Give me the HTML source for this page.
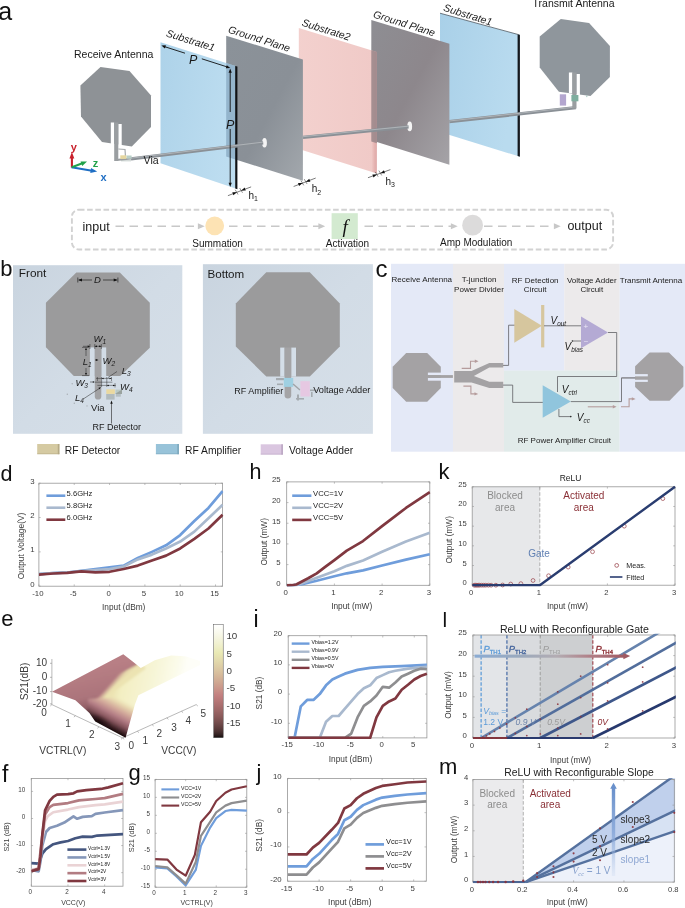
<!DOCTYPE html>
<html><head><meta charset="utf-8"><title>Figure</title>
<style>
html,body{margin:0;padding:0;background:#fff;}
body{width:685px;height:908px;overflow:hidden;}
svg{display:block;font-family:"Liberation Sans", sans-serif;}
</style></head><body>
<svg width="685" height="908" viewBox="0 0 685 908">
<defs>

<linearGradient id="gp1" x1="0" y1="0" x2="1" y2="1">
 <stop offset="0" stop-color="#8b9299"/><stop offset="0.55" stop-color="#8a9097"/><stop offset="1" stop-color="#a3a8ad"/>
</linearGradient>
<linearGradient id="gp2" x1="0" y1="0" x2="1" y2="1">
 <stop offset="0" stop-color="#8e8e93"/><stop offset="0.5" stop-color="#8d878c"/><stop offset="1" stop-color="#a5a3a7"/>
</linearGradient>
<linearGradient id="sub1" x1="0" y1="0" x2="1" y2="0.3">
 <stop offset="0" stop-color="#a9d0e8"/><stop offset="1" stop-color="#b9dbef"/>
</linearGradient>
<linearGradient id="sub2" x1="0" y1="0" x2="1" y2="0">
 <stop offset="0" stop-color="#f2cdca"/><stop offset="0.93" stop-color="#efc6c3"/><stop offset="0.97" stop-color="#e3adab"/><stop offset="1" stop-color="#dca3a2"/>
</linearGradient>
<linearGradient id="rodg" x1="0" y1="0" x2="0" y2="1">
 <stop offset="0" stop-color="#b5b9bc"/><stop offset="1" stop-color="#7f8489"/>
</linearGradient>

<linearGradient id="pcb" x1="0" y1="0" x2="1" y2="1">
 <stop offset="0" stop-color="#c9d4df"/><stop offset="0.5" stop-color="#d2dce6"/><stop offset="1" stop-color="#d6dfe8"/>
</linearGradient>
<clipPath id="cd"><rect x="38.90" y="482.00" width="184.50" height="105.40"/></clipPath>
<clipPath id="ch"><rect x="286.70" y="480.70" width="143.90" height="105.80"/></clipPath>
<clipPath id="ck"><rect x="472.20" y="485.60" width="203.60" height="100.80"/></clipPath>
<clipPath id="ci"><rect x="288.20" y="634.50" width="139.50" height="104.60"/></clipPath>
<clipPath id="cl"><rect x="472.90" y="633.80" width="202.90" height="105.40"/></clipPath>
<linearGradient id="larr" x1="0" y1="0" x2="1" y2="0">
<stop offset="0" stop-color="#8aabd3"/><stop offset="0.3" stop-color="#9aa9bd"/><stop offset="0.55" stop-color="#b3acb2"/><stop offset="0.8" stop-color="#b07a82"/><stop offset="1" stop-color="#a05a62"/></linearGradient>
<clipPath id="cf"><rect x="31.30" y="777.20" width="92.50" height="110.20"/></clipPath>
<clipPath id="cg"><rect x="155.10" y="778.20" width="92.50" height="110.20"/></clipPath>
<clipPath id="cj"><rect x="287.60" y="777.20" width="139.50" height="105.20"/></clipPath>
<clipPath id="cm"><rect x="472.90" y="778.30" width="202.20" height="105.00"/></clipPath>
<linearGradient id="marr" x1="0" y1="1" x2="0" y2="0">
<stop offset="0" stop-color="#a9c1e6" stop-opacity="0.15"/><stop offset="0.5" stop-color="#86a6d8" stop-opacity="0.85"/><stop offset="1" stop-color="#6990cb"/></linearGradient>

<linearGradient id="cbar" x1="0" y1="0" x2="0" y2="1">
<stop offset="0.0000" stop-color="#ffffff"/><stop offset="0.0625" stop-color="#fafaef"/><stop offset="0.1250" stop-color="#f4f4dd"/><stop offset="0.1875" stop-color="#efefca"/><stop offset="0.2500" stop-color="#e9e9b4"/><stop offset="0.3125" stop-color="#e3dbad"/><stop offset="0.3750" stop-color="#ddcca5"/><stop offset="0.4375" stop-color="#d7bc9c"/><stop offset="0.5000" stop-color="#d0aa93"/><stop offset="0.5625" stop-color="#ca968a"/><stop offset="0.6250" stop-color="#c38080"/><stop offset="0.6875" stop-color="#b27474"/><stop offset="0.7500" stop-color="#9f6868"/><stop offset="0.8125" stop-color="#8a5a5a"/><stop offset="0.8750" stop-color="#704a4a"/><stop offset="0.9200" stop-color="#5a3b3b"/><stop offset="0.9500" stop-color="#472f2f"/><stop offset="0.9750" stop-color="#322121"/><stop offset="0.9900" stop-color="#201515"/><stop offset="1.0000" stop-color="#000000"/></linearGradient>
<linearGradient id="epink" gradientUnits="userSpaceOnUse" x1="92" y1="668" x2="104" y2="722">
<stop offset="0" stop-color="#b87f85"/><stop offset="0.5" stop-color="#ab747b"/><stop offset="0.72" stop-color="#8a5860"/><stop offset="0.9" stop-color="#3a2024"/><stop offset="1" stop-color="#1a0b0d"/></linearGradient>
<linearGradient id="ecream" gradientUnits="userSpaceOnUse" x1="116" y1="676" x2="182" y2="690">
<stop offset="0" stop-color="#ece3b2"/><stop offset="0.12" stop-color="#f3efc2"/><stop offset="0.5" stop-color="#f6f4d4"/><stop offset="0.85" stop-color="#fbfbea"/><stop offset="1" stop-color="#fefef8"/></linearGradient>
<linearGradient id="ewall" gradientUnits="userSpaceOnUse" x1="121" y1="698" x2="105.5" y2="727">
<stop offset="0" stop-color="#efe8bc" stop-opacity="0"/><stop offset="0.16" stop-color="#e8d8b0"/><stop offset="0.36" stop-color="#d2a89a"/><stop offset="0.55" stop-color="#b47e86"/><stop offset="0.74" stop-color="#85545c"/><stop offset="0.9" stop-color="#3c2226"/><stop offset="1" stop-color="#150809"/></linearGradient>
<linearGradient id="etrans" gradientUnits="userSpaceOnUse" x1="114.5" y1="678" x2="118.5" y2="681.4">
<stop offset="0" stop-color="#b77d83"/><stop offset="1" stop-color="#ebe2b0"/></linearGradient>
<radialGradient id="edark" gradientUnits="userSpaceOnUse" cx="99" cy="722" r="16" gradientTransform="translate(99 722) rotate(28) scale(1 0.45) translate(-99 -722)">
<stop offset="0" stop-color="#12070a" stop-opacity="0.95"/><stop offset="0.5" stop-color="#2a1418" stop-opacity="0.55"/><stop offset="1" stop-color="#2a1418" stop-opacity="0"/></radialGradient>
<filter id="eblur" x="-10%" y="-10%" width="120%" height="120%"><feGaussianBlur stdDeviation="1.0"/></filter>
<clipPath id="esil"><polygon points="52,691.7 123.3,654.3 132,661 140.8,667.9 154.8,660.2 171.1,655.5 185.2,656.2 200,661 200,665 138.4,695.2 134.9,704.6 125.6,737.8 95.2,721.4 89.4,713 75.4,700.2"/></clipPath>

</defs>
<text x="-1.80" y="19.50" font-size="25" fill="#111">a</text>
<polygon points="440.00,13.30 519.50,35.00 519.50,156.60 440.00,132.00" fill="url(#sub1)"/>
<polygon points="517.60,34.50 519.90,35.10 519.90,156.80 517.60,156.10" fill="#15181c"/>
<line x1="440.00" y1="13.20" x2="519.60" y2="34.90" stroke="#39434c" stroke-width="0.7"/>
<line x1="449.30" y1="121.70" x2="575.80" y2="107.70" stroke="#8a9096" stroke-width="3.3"/>
<line x1="449.30" y1="121.00" x2="575.80" y2="107.00" stroke="#b9bdc0" stroke-width="0.8"/>
<polygon points="371.30,20.00 449.40,43.80 449.40,164.70 371.30,140.20" fill="url(#gp2)"/>
<ellipse cx="409.7" cy="126.4" rx="2.4" ry="4.8" fill="#f4f4f4"/>
<polygon points="298.80,28.00 376.90,51.90 376.90,173.40 298.80,148.90" fill="url(#sub2)" opacity="0.93"/>
<polygon points="371.30,50.20 376.90,51.90 376.90,143.20 371.30,141.50" fill="#9a878b" opacity="0.85"/>
<line x1="303.00" y1="137.40" x2="408.60" y2="126.85" stroke="#8a9096" stroke-width="3.3"/>
<line x1="303.00" y1="136.70" x2="408.60" y2="126.15" stroke="#b9bdc0" stroke-width="0.8"/>
<polygon points="226.20,35.80 302.90,59.40 302.90,180.80 226.20,156.60" fill="url(#gp1)"/>
<ellipse cx="264.5" cy="142.8" rx="2.4" ry="4.8" fill="#f4f4f4"/>
<polygon points="160.50,42.30 235.60,66.00 235.60,188.40 160.50,163.20" fill="url(#sub1)" opacity="0.95"/>
<polygon points="226.20,63.00 235.40,66.00 235.40,159.50 226.20,156.60" fill="#7f9fb9" opacity="0.62"/>
<polygon points="235.20,65.90 237.40,66.60 237.40,189.20 235.20,188.40" fill="#101215"/>
<line x1="131.00" y1="158.90" x2="263.20" y2="142.80" stroke="#8a9096" stroke-width="3.3"/>
<line x1="131.00" y1="158.20" x2="263.20" y2="142.10" stroke="#b9bdc0" stroke-width="0.8"/>
<polygon points="100.50,67.00 129.50,71.00 151.00,95.50 151.00,127.00 131.80,146.40 102.00,142.00 81.00,116.60 80.40,85.40" fill="#8e9296"/>
<rect x="110.80" y="122.50" width="3.40" height="21.50" fill="#ffffff"/>
<rect x="118.30" y="124.00" width="3.40" height="23.50" fill="#ffffff"/>
<rect x="114.20" y="122.50" width="4.10" height="38.50" fill="#9a9ea1"/>
<polyline points="116.20,160.00 131.00,158.50" fill="none" stroke="#9a9ea1" stroke-width="2.2"/>
<polyline points="118.30,149.00 125.00,149.50 125.50,157.00" fill="none" stroke="#a6aaad" stroke-width="1.2"/>
<rect x="120.30" y="155.30" width="6.20" height="3.60" fill="#e6d7a0"/>
<rect x="126.60" y="155.50" width="5.00" height="3.20" fill="#b9cfc8"/>
<line x1="121.00" y1="160.80" x2="131.00" y2="160.80" stroke="#9aa7a5" stroke-width="0.6"/>
<text x="74.00" y="58.30" font-size="10.5" fill="#1a1a1a">Receive Antenna</text>
<text x="143.60" y="164.00" font-size="10.6" fill="#1a1a1a">Via</text>
<line x1="71.90" y1="167.60" x2="71.90" y2="157.00" stroke="#c8202c" stroke-width="2.1"/>
<polygon points="71.90,152.00 74.33,158.40 69.47,158.40" fill="#c8202c"/>
<line x1="71.50" y1="167.30" x2="92.00" y2="170.70" stroke="#1f6ec3" stroke-width="2.1"/>
<polygon points="97.20,171.60 90.28,172.98 91.10,168.04" fill="#1f6ec3"/>
<line x1="71.90" y1="167.20" x2="82.30" y2="163.30" stroke="#21a24a" stroke-width="2.1"/>
<polygon points="87.00,161.60 82.22,165.88 80.58,161.62" fill="#21a24a"/>
<text x="70.70" y="150.50" font-size="11" fill="#c8202c" font-weight="bold">y</text>
<text x="92.80" y="167.30" font-size="11" fill="#21a24a" font-weight="bold">z</text>
<text x="100.40" y="180.60" font-size="11" fill="#1f6ec3" font-weight="bold">x</text>
<polygon points="560.80,18.90 589.10,23.00 609.90,45.90 609.90,77.00 590.50,95.90 558.90,91.80 539.70,67.50 539.70,36.50" fill="#8f969c"/>
<rect x="568.90" y="72.50" width="3.50" height="20.50" fill="#ffffff"/>
<rect x="576.40" y="74.00" width="3.50" height="22.00" fill="#ffffff"/>
<rect x="572.30" y="72.50" width="4.20" height="36.00" fill="#9a9ea1"/>
<rect x="559.80" y="94.30" width="6.30" height="11.30" fill="#b3a6cf"/>
<rect x="571.40" y="95.00" width="7.00" height="6.30" fill="#7fae9f"/>
<rect x="586.30" y="95.50" width="1.00" height="1.60" fill="#9fc7bd"/>
<text x="532.60" y="7.00" font-size="10.5" fill="#1a1a1a">Transmit Antenna</text>
<text x="165.60" y="36.20" font-size="10.4" fill="#1a1a1a" font-style="italic" transform="rotate(17.5 165.60 36.20)">Substrate1</text>
<text x="227.60" y="32.60" font-size="10.4" fill="#1a1a1a" font-style="italic" transform="rotate(17.5 227.60 32.60)">Ground Plane</text>
<text x="301.20" y="25.60" font-size="10.4" fill="#1a1a1a" font-style="italic" transform="rotate(17.5 301.20 25.60)">Substrate2</text>
<text x="372.60" y="17.20" font-size="10.4" fill="#1a1a1a" font-style="italic" transform="rotate(17.5 372.60 17.20)">Ground Plane</text>
<text x="442.80" y="10.60" font-size="10.4" fill="#1a1a1a" font-style="italic" transform="rotate(17.5 442.80 10.60)">Substrate1</text>
<line x1="163.50" y1="46.30" x2="185.00" y2="53.20" stroke="#111" stroke-width="0.9"/>
<polygon points="161.40,45.60 165.89,45.36 164.91,48.40" fill="#111"/>
<line x1="201.80" y1="58.80" x2="228.00" y2="67.20" stroke="#111" stroke-width="0.9"/>
<polygon points="230.30,68.00 225.81,68.24 226.79,65.20" fill="#111"/>
<text x="189.00" y="63.80" font-size="12.5" fill="#1a1a1a" font-style="italic">P</text>
<line x1="230.20" y1="71.00" x2="230.20" y2="112.00" stroke="#111" stroke-width="0.9"/>
<polygon points="230.20,68.60 231.80,72.80 228.60,72.80" fill="#111"/>
<line x1="230.20" y1="129.00" x2="230.20" y2="184.50" stroke="#111" stroke-width="0.9"/>
<polygon points="230.20,187.00 228.60,182.80 231.80,182.80" fill="#111"/>
<text x="226.00" y="128.60" font-size="12.5" fill="#1a1a1a" font-style="italic">P</text>
<line x1="227.91" y1="195.66" x2="251.12" y2="186.89" stroke="#222" stroke-width="0.6"/>
<polygon points="236.80,192.30 233.44,195.28 232.31,192.29" fill="#111"/>
<polygon points="241.30,190.60 244.66,187.62 245.79,190.61" fill="#111"/>
<line x1="235.20" y1="189.70" x2="238.00" y2="194.50" stroke="#222" stroke-width="0.5"/>
<line x1="239.70" y1="188.00" x2="242.50" y2="192.80" stroke="#222" stroke-width="0.5"/>
<text x="248.4" y="199" font-size="10" fill="#1a1a1a">h<tspan font-size="7" dy="2.4">1</tspan></text>
<line x1="293.63" y1="186.49" x2="315.71" y2="178.05" stroke="#222" stroke-width="0.6"/>
<polygon points="302.50,183.10 299.15,186.09 298.01,183.11" fill="#111"/>
<polygon points="305.90,181.80 309.25,178.81 310.39,181.79" fill="#111"/>
<line x1="300.90" y1="180.50" x2="303.70" y2="185.30" stroke="#222" stroke-width="0.5"/>
<line x1="304.30" y1="179.20" x2="307.10" y2="184.00" stroke="#222" stroke-width="0.5"/>
<text x="311.8" y="192.4" font-size="10" fill="#1a1a1a">h<tspan font-size="7" dy="2.4">2</tspan></text>
<line x1="367.96" y1="177.73" x2="390.38" y2="169.63" stroke="#222" stroke-width="0.6"/>
<polygon points="376.90,174.50 373.49,177.43 372.41,174.43" fill="#111"/>
<polygon points="380.50,173.20 383.91,170.27 384.99,173.27" fill="#111"/>
<line x1="375.30" y1="171.90" x2="378.10" y2="176.70" stroke="#222" stroke-width="0.5"/>
<line x1="378.90" y1="170.60" x2="381.70" y2="175.40" stroke="#222" stroke-width="0.5"/>
<text x="385.4" y="184.6" font-size="10" fill="#1a1a1a">h<tspan font-size="7" dy="2.4">3</tspan></text>
<rect x="71.9" y="209.7" width="541.2" height="39.8" rx="7" ry="7" fill="none" stroke="#d2d2d2" stroke-width="1.9" stroke-dasharray="5.6 2.6"/>
<text x="82.60" y="230.70" font-size="12.5" fill="#1a1a1a">input</text>
<line x1="115.50" y1="226.20" x2="198.50" y2="226.20" stroke="#c8c8c8" stroke-width="1.6" stroke-dasharray="8.5 5.5"/>
<polygon points="204.70,226.20 197.90,223.20 197.90,229.20" fill="#c8c8c8"/>
<circle cx="214.7" cy="225.8" r="9.4" fill="#fde3b4"/>
<text x="217.60" y="246.80" font-size="10" fill="#1a1a1a" text-anchor="middle">Summation</text>
<line x1="229.00" y1="226.20" x2="319.00" y2="226.20" stroke="#c8c8c8" stroke-width="1.6" stroke-dasharray="8.5 5.5"/>
<polygon points="325.20,226.20 318.40,223.20 318.40,229.20" fill="#c8c8c8"/>
<rect x="331.60" y="213.20" width="26.20" height="25.80" fill="#d3ead0"/>
<text x="345.20" y="233.30" font-size="19" fill="#111" text-anchor="middle" font-style="italic" font-family='"Liberation Serif", serif'>f</text>
<text x="347.50" y="246.80" font-size="10" fill="#1a1a1a" text-anchor="middle">Activation</text>
<line x1="364.50" y1="226.20" x2="451.50" y2="226.20" stroke="#c8c8c8" stroke-width="1.6" stroke-dasharray="8.5 5.5"/>
<polygon points="457.70,226.20 450.90,223.20 450.90,229.20" fill="#c8c8c8"/>
<circle cx="472.6" cy="225.2" r="10.4" fill="#dcdbdb"/>
<text x="476.20" y="245.50" font-size="10" fill="#1a1a1a" text-anchor="middle">Amp Modulation</text>
<line x1="484.00" y1="226.20" x2="554.50" y2="226.20" stroke="#c8c8c8" stroke-width="1.6" stroke-dasharray="8.5 5.5"/>
<polygon points="560.70,226.20 553.90,223.20 553.90,229.20" fill="#c8c8c8"/>
<text x="567.40" y="230.20" font-size="12.5" fill="#1a1a1a">output</text>
<text x="0.20" y="276.00" font-size="22" fill="#111">b</text>
<rect x="13.00" y="265.20" width="169.30" height="168.60" fill="url(#pcb)"/>
<polygon points="76.30,272.50 119.80,272.50 149.80,302.80 149.80,347.70 120.20,376.00 73.80,376.00 45.90,347.20 45.90,302.80" fill="#9b9b9c"/>
<rect x="89.90" y="347.40" width="4.90" height="28.80" fill="#d2dce6"/>
<rect x="101.30" y="347.40" width="4.90" height="28.80" fill="#d2dce6"/>
<path d="M94.8 347 H101.3 V396.5 Q101.3 399.6 98.05 399.6 Q94.8 399.6 94.8 396.5 Z" fill="#a2a2a4"/>
<text x="18.80" y="276.80" font-size="11.8" fill="#1a1a1a">Front</text>
<line x1="77.80" y1="277.50" x2="77.80" y2="282.50" stroke="#222" stroke-width="0.7"/>
<line x1="117.90" y1="277.50" x2="117.90" y2="282.50" stroke="#222" stroke-width="0.7"/>
<line x1="79.00" y1="280.00" x2="92.00" y2="280.00" stroke="#222" stroke-width="0.7"/>
<line x1="103.00" y1="280.00" x2="116.50" y2="280.00" stroke="#222" stroke-width="0.7"/>
<polygon points="78.00,280.00 82.00,278.48 82.00,281.52" fill="#111"/>
<polygon points="117.70,280.00 113.70,281.52 113.70,278.48" fill="#111"/>
<text x="97.50" y="283.40" font-size="9.5" fill="#1a1a1a" text-anchor="middle" font-style="italic">D</text>
<text x="93.6" y="341.6" font-size="9.5" fill="#1a1a1a" font-style="italic">W<tspan font-size="6.6" dy="2">1</tspan></text>
<text x="82.8" y="365.2" font-size="9.5" fill="#1a1a1a" font-style="italic">L<tspan font-size="6.6" dy="2">1</tspan></text>
<text x="102.6" y="364.4" font-size="9.5" fill="#1a1a1a" font-style="italic">W<tspan font-size="6.6" dy="2">2</tspan></text>
<text x="121.8" y="373.8" font-size="9.5" fill="#1a1a1a" font-style="italic">L<tspan font-size="6.6" dy="2">3</tspan></text>
<text x="75.4" y="386.2" font-size="9.5" fill="#1a1a1a" font-style="italic">W<tspan font-size="6.6" dy="2">3</tspan></text>
<text x="120" y="389.8" font-size="9.5" fill="#1a1a1a" font-style="italic">W<tspan font-size="6.6" dy="2">4</tspan></text>
<text x="75" y="401.2" font-size="9.5" fill="#1a1a1a" font-style="italic">L<tspan font-size="6.6" dy="2">4</tspan></text>
<text x="91.00" y="411.30" font-size="9.5" fill="#1a1a1a">Via</text>
<text x="92.60" y="430.30" font-size="9" fill="#1a1a1a">RF Detector</text>
<line x1="89.90" y1="344.00" x2="89.90" y2="349.00" stroke="#222" stroke-width="0.5"/>
<line x1="94.80" y1="344.00" x2="94.80" y2="349.00" stroke="#222" stroke-width="0.5"/>
<line x1="101.30" y1="344.00" x2="101.30" y2="349.00" stroke="#222" stroke-width="0.5"/>
<line x1="83.00" y1="346.30" x2="89.90" y2="346.30" stroke="#222" stroke-width="0.5"/>
<polygon points="89.90,346.30 87.70,347.14 87.70,345.46" fill="#111"/>
<line x1="94.80" y1="346.30" x2="101.30" y2="346.30" stroke="#222" stroke-width="0.5"/>
<polygon points="94.80,346.30 97.00,345.46 97.00,347.14" fill="#111"/>
<polygon points="101.30,346.30 99.10,347.14 99.10,345.46" fill="#111"/>
<line x1="82.00" y1="347.40" x2="89.00" y2="347.40" stroke="#222" stroke-width="0.5"/>
<line x1="82.00" y1="375.60" x2="89.00" y2="375.60" stroke="#222" stroke-width="0.5"/>
<line x1="86.00" y1="349.00" x2="86.00" y2="356.00" stroke="#222" stroke-width="0.5"/>
<line x1="86.00" y1="368.00" x2="86.00" y2="374.00" stroke="#222" stroke-width="0.5"/>
<polygon points="86.00,347.60 86.91,350.00 85.09,350.00" fill="#111"/>
<polygon points="86.00,375.40 85.09,373.00 86.91,373.00" fill="#111"/>
<polygon points="95.00,360.00 97.00,359.24 97.00,360.76" fill="#111"/>
<polygon points="98.20,360.00 96.20,360.76 96.20,359.24" fill="#111"/>
<line x1="95.00" y1="360.00" x2="98.20" y2="360.00" stroke="#222" stroke-width="0.5"/>
<line x1="97.40" y1="377.00" x2="97.40" y2="381.00" stroke="#222" stroke-width="0.45"/>
<line x1="101.60" y1="377.00" x2="101.60" y2="387.00" stroke="#222" stroke-width="0.45"/>
<line x1="106.80" y1="377.00" x2="106.80" y2="387.00" stroke="#222" stroke-width="0.45"/>
<line x1="111.50" y1="377.00" x2="111.50" y2="381.00" stroke="#222" stroke-width="0.45"/>
<line x1="115.00" y1="383.00" x2="115.00" y2="387.50" stroke="#222" stroke-width="0.45"/>
<line x1="96.00" y1="378.40" x2="111.50" y2="378.40" stroke="#222" stroke-width="0.45"/>
<line x1="95.00" y1="382.20" x2="112.40" y2="382.20" stroke="#222" stroke-width="0.45"/>
<line x1="97.40" y1="385.40" x2="116.00" y2="385.40" stroke="#222" stroke-width="0.45"/>
<polygon points="101.60,378.40 103.60,377.64 103.60,379.16" fill="#111"/>
<polygon points="111.50,378.40 109.50,379.16 109.50,377.64" fill="#111"/>
<polygon points="106.80,385.40 108.80,384.64 108.80,386.16" fill="#111"/>
<polygon points="115.00,385.40 113.00,386.16 113.00,384.64" fill="#111"/>
<line x1="108.00" y1="377.50" x2="117.00" y2="371.50" stroke="#222" stroke-width="0.5"/>
<line x1="90.00" y1="382.00" x2="94.00" y2="382.00" stroke="#222" stroke-width="0.5"/>
<polygon points="95.00,382.00 92.80,382.84 92.80,381.16" fill="#111"/>
<line x1="84.00" y1="398.50" x2="100.00" y2="388.00" stroke="#222" stroke-width="0.5"/>
<polygon points="101.00,387.30 99.48,389.37 98.49,387.84" fill="#111"/>
<rect x="106.20" y="394.00" width="8.40" height="5.60" fill="#8f9a96" opacity="0.5"/>
<rect x="115.80" y="393.50" width="5.00" height="3.20" fill="#8f9a96" opacity="0.45"/>
<rect x="106.30" y="389.30" width="8.60" height="4.60" fill="#ead9a0"/>
<rect x="115.50" y="389.60" width="5.50" height="4.00" fill="#b9c9c4"/>
<polygon points="115.00,394.00 122.00,389.50 122.00,394.00" fill="#9aa39f"/>
<line x1="111.50" y1="423.50" x2="111.50" y2="403.00" stroke="#222" stroke-width="0.6"/>
<polygon points="111.50,400.60 112.72,403.80 110.28,403.80" fill="#111"/>
<circle cx="72.2" cy="383.7" r="0.7" fill="#a8aeb4"/>
<circle cx="67.3" cy="394.2" r="0.7" fill="#a8aeb4"/>
<circle cx="74.3" cy="403.2" r="0.7" fill="#a8aeb4"/>
<circle cx="87" cy="405.9" r="0.7" fill="#a8aeb4"/>
<rect x="202.90" y="264.20" width="170.00" height="169.60" fill="url(#pcb)"/>
<polygon points="266.30,272.20 309.80,272.20 339.80,303.50 339.80,346.50 309.80,376.50 266.30,376.50 235.80,346.50 235.80,303.50" fill="#9b9b9c"/>
<rect x="280.20" y="347.60" width="4.40" height="29.00" fill="#d4dee8"/>
<rect x="291.20" y="347.60" width="4.80" height="29.00" fill="#d4dee8"/>
<path d="M284.6 347.5 H291.2 V395.2 Q291.2 398.4 287.9 398.4 Q284.6 398.4 284.6 395.2 Z" fill="#a4a4a6"/>
<text x="207.50" y="277.50" font-size="11.6" fill="#1a1a1a">Bottom</text>
<rect x="276.00" y="378.00" width="9.00" height="2.20" fill="#a5abb0"/>
<rect x="277.00" y="383.50" width="6.00" height="1.60" fill="#a5abb0"/>
<rect x="283.80" y="377.90" width="9.40" height="9.00" fill="#9fd0e2"/>
<line x1="293.00" y1="384.00" x2="300.00" y2="390.00" stroke="#a0a3a8" stroke-width="1.4"/>
<rect x="300.40" y="381.20" width="9.40" height="15.30" fill="#e6c8e2"/>
<rect x="310.00" y="389.50" width="6.50" height="1.60" fill="#a5abb0"/>
<rect x="296.00" y="398.00" width="8.00" height="1.60" fill="#a5abb0"/>
<rect x="297.00" y="394.50" width="2.00" height="6.00" fill="#a5abb0"/>
<rect x="311.00" y="392.00" width="1.60" height="5.00" fill="#a5abb0"/>
<text x="234.30" y="393.80" font-size="9" fill="#1a1a1a">RF Amplifier</text>
<text x="313.20" y="392.50" font-size="9.2" fill="#1a1a1a">Voltage Adder</text>
<rect x="37.20" y="444.00" width="22.20" height="10.20" fill="#d5caa2"/>
<rect x="57.80" y="444.00" width="1.60" height="10.20" fill="#b5aa86"/>
<rect x="37.20" y="453.20" width="22.20" height="1.00" fill="#b5aa86" opacity="0.5"/>
<text x="64.80" y="453.70" font-size="10.3" fill="#1a1a1a">RF Detector</text>
<rect x="155.90" y="444.00" width="23.00" height="10.20" fill="#98c3d9"/>
<rect x="177.30" y="444.00" width="1.60" height="10.20" fill="#7ea8bd"/>
<rect x="155.90" y="453.20" width="23.00" height="1.00" fill="#7ea8bd" opacity="0.5"/>
<text x="185.00" y="453.70" font-size="10.3" fill="#1a1a1a">RF Amplifier</text>
<rect x="260.70" y="444.30" width="22.20" height="10.30" fill="#dac6e0"/>
<rect x="281.30" y="444.30" width="1.60" height="10.30" fill="#bba7c2"/>
<rect x="260.70" y="453.60" width="22.20" height="1.00" fill="#bba7c2" opacity="0.5"/>
<text x="289.00" y="453.90" font-size="10.3" fill="#1a1a1a">Voltage Adder</text>
<text x="375.40" y="277.30" font-size="24" fill="#111">c</text>
<rect x="391.00" y="263.80" width="62.20" height="187.90" fill="#e4e9f7"/>
<rect x="453.00" y="263.80" width="51.00" height="187.90" fill="#eceaeb"/>
<rect x="504.00" y="263.80" width="60.40" height="107.00" fill="#e4e9f7"/>
<rect x="564.30" y="263.80" width="55.40" height="107.00" fill="#eceaeb"/>
<rect x="504.00" y="370.60" width="115.70" height="81.10" fill="#e1ebea"/>
<rect x="619.60" y="263.80" width="65.40" height="187.90" fill="#e4e9f7"/>
<text x="421.80" y="282.00" font-size="8" fill="#222" text-anchor="middle">Receive Antenna</text>
<text x="479.00" y="282.00" font-size="8" fill="#222" text-anchor="middle">T-junction</text>
<text x="479.00" y="292.00" font-size="8" fill="#222" text-anchor="middle">Power Divider</text>
<text x="535.20" y="282.80" font-size="8" fill="#222" text-anchor="middle">RF Detection</text>
<text x="535.20" y="292.20" font-size="8" fill="#222" text-anchor="middle">Circuit</text>
<text x="591.80" y="282.80" font-size="8" fill="#222" text-anchor="middle">Voltage Adder</text>
<text x="591.80" y="292.20" font-size="8" fill="#222" text-anchor="middle">Circuit</text>
<text x="651.00" y="282.80" font-size="8" fill="#222" text-anchor="middle">Transmit Antenna</text>
<text x="564.40" y="442.80" font-size="8" fill="#222" text-anchor="middle">RF Power Amplifier Circuit</text>
<polygon points="406.20,353.10 427.20,353.10 440.80,366.70 440.80,388.10 427.20,401.70 406.20,401.70 392.70,388.10 392.70,366.70" fill="#a4a2a4"/>
<rect x="427.90" y="372.60" width="13.20" height="2.60" fill="#e4e9f7"/>
<rect x="427.90" y="377.80" width="13.20" height="2.90" fill="#e4e9f7"/>
<rect x="427.90" y="375.10" width="25.00" height="2.80" fill="#a4a2a4"/>
<path d="M454.2 371 H471.5 L489.3 363.1 H503.2 V367.6 H489.3 L473.9 375.9 L489.3 381.8 H503.2 V388.1 H489.3 L471.5 382.4 H454.2 Z" fill="#a4a2a4"/>
<polyline points="461.70,368.40 470.50,368.40 470.50,361.20 475.00,361.20" fill="none" stroke="#b59c9c" stroke-width="1.1"/>
<polygon points="478.50,361.20 474.80,359.50 474.80,362.90" fill="#b59c9c"/>
<polyline points="463.40,386.10 470.90,386.10 470.90,393.90 475.00,393.90" fill="none" stroke="#b59c9c" stroke-width="1.1"/>
<polygon points="478.20,393.90 474.50,392.20 474.50,395.60" fill="#b59c9c"/>
<polyline points="503.10,365.40 508.60,365.40 508.60,325.20 515.00,325.20" fill="none" stroke="#606063" stroke-width="0.8"/>
<polyline points="503.10,385.10 512.70,385.10 512.70,402.40 543.00,402.40" fill="none" stroke="#606063" stroke-width="0.8"/>
<polygon points="514.30,309.00 541.90,325.80 514.30,342.80" fill="#d6c69e"/>
<rect x="541.10" y="305.00" width="3.20" height="42.40" fill="#d6c69e"/>
<line x1="544.00" y1="325.80" x2="581.00" y2="325.80" stroke="#606063" stroke-width="0.8"/>
<polygon points="581.00,316.60 608.00,332.50 581.00,348.20" fill="#b4aad4"/>
<text x="585.90" y="329.40" font-size="8" fill="#ece8f6" text-anchor="middle">+</text>
<text x="585.90" y="342.60" font-size="7" fill="#ece8f6" text-anchor="middle">–</text>
<circle cx="572.4" cy="341" r="0.8" fill="#222"/>
<line x1="572.40" y1="341.00" x2="581.00" y2="341.00" stroke="#606063" stroke-width="0.8"/>
<polyline points="608.00,332.50 616.70,332.50 616.70,376.50 557.50,376.50 557.50,392.00" fill="none" stroke="#606063" stroke-width="0.8"/>
<polygon points="542.70,385.20 570.80,401.60 542.70,417.80" fill="#90c5dd"/>
<polyline points="570.80,401.60 621.50,401.60 621.50,377.90 636.00,377.90" fill="none" stroke="#606063" stroke-width="0.8"/>
<polyline points="558.90,409.00 558.90,416.60 570.50,416.60" fill="none" stroke="#606063" stroke-width="0.8"/>
<circle cx="570.8" cy="416.6" r="0.8" fill="#222"/>
<text x="550.6" y="324" font-size="10" fill="#1a1a1a" font-style="italic">V<tspan font-size="6.4" dy="2.2">out</tspan></text>
<text x="564.6" y="350.2" font-size="10" fill="#1a1a1a" font-style="italic">V<tspan font-size="6.4" dy="2.2">bias</tspan></text>
<text x="561.8" y="392.8" font-size="10" fill="#1a1a1a" font-style="italic">V<tspan font-size="6.4" dy="2.2">ctrl</tspan></text>
<text x="576.8" y="421.2" font-size="10" fill="#1a1a1a" font-style="italic">V<tspan font-size="6.4" dy="2.2">cc</tspan></text>
<line x1="587.80" y1="406.80" x2="613.00" y2="406.80" stroke="#b59c9c" stroke-width="1.1"/>
<polygon points="616.60,406.80 612.80,405.10 612.80,408.50" fill="#b59c9c"/>
<polyline points="621.00,406.80 629.10,406.80 629.10,398.90 632.00,398.90" fill="none" stroke="#b59c9c" stroke-width="1.1"/>
<polygon points="635.60,398.90 631.80,397.20 631.80,400.60" fill="#b59c9c"/>
<polygon points="649.60,352.40 668.90,352.40 683.40,366.70 683.40,386.50 669.50,400.80 649.60,400.80 635.10,386.90 635.10,366.30" fill="#a4a2a4"/>
<rect x="634.80" y="374.10" width="13.00" height="2.50" fill="#e4e9f7"/>
<rect x="634.80" y="379.50" width="13.00" height="2.40" fill="#e4e9f7"/>
<rect x="635.00" y="376.60" width="13.00" height="2.90" fill="#a4a2a4"/>
<line x1="621.50" y1="377.90" x2="635.20" y2="377.90" stroke="#8f8e95" stroke-width="1.0"/>
<text x="0.60" y="480.60" font-size="21.5" fill="#111">d</text>
<rect x="38.90" y="483.20" width="183.70" height="103.00" fill="none" stroke="#969696" stroke-width="0.8"/>
<line x1="38.90" y1="586.20" x2="38.90" y2="584.40" stroke="#969696" stroke-width="0.6"/>
<line x1="38.90" y1="483.20" x2="38.90" y2="485.00" stroke="#969696" stroke-width="0.6"/>
<text x="37.90" y="595.70" font-size="7.8" fill="#3c3c3c" text-anchor="middle">-10</text>
<line x1="74.23" y1="586.20" x2="74.23" y2="584.40" stroke="#969696" stroke-width="0.6"/>
<line x1="74.23" y1="483.20" x2="74.23" y2="485.00" stroke="#969696" stroke-width="0.6"/>
<text x="73.23" y="595.70" font-size="7.8" fill="#3c3c3c" text-anchor="middle">-5</text>
<line x1="109.55" y1="586.20" x2="109.55" y2="584.40" stroke="#969696" stroke-width="0.6"/>
<line x1="109.55" y1="483.20" x2="109.55" y2="485.00" stroke="#969696" stroke-width="0.6"/>
<text x="108.55" y="595.70" font-size="7.8" fill="#3c3c3c" text-anchor="middle">0</text>
<line x1="144.88" y1="586.20" x2="144.88" y2="584.40" stroke="#969696" stroke-width="0.6"/>
<line x1="144.88" y1="483.20" x2="144.88" y2="485.00" stroke="#969696" stroke-width="0.6"/>
<text x="143.88" y="595.70" font-size="7.8" fill="#3c3c3c" text-anchor="middle">5</text>
<line x1="180.21" y1="586.20" x2="180.21" y2="584.40" stroke="#969696" stroke-width="0.6"/>
<line x1="180.21" y1="483.20" x2="180.21" y2="485.00" stroke="#969696" stroke-width="0.6"/>
<text x="179.21" y="595.70" font-size="7.8" fill="#3c3c3c" text-anchor="middle">10</text>
<line x1="215.53" y1="586.20" x2="215.53" y2="584.40" stroke="#969696" stroke-width="0.6"/>
<line x1="215.53" y1="483.20" x2="215.53" y2="485.00" stroke="#969696" stroke-width="0.6"/>
<text x="214.53" y="595.70" font-size="7.8" fill="#3c3c3c" text-anchor="middle">15</text>
<line x1="38.90" y1="586.20" x2="40.70" y2="586.20" stroke="#969696" stroke-width="0.6"/>
<line x1="222.60" y1="586.20" x2="220.80" y2="586.20" stroke="#969696" stroke-width="0.6"/>
<text x="34.60" y="586.60" font-size="7.8" fill="#3c3c3c" text-anchor="end">0</text>
<line x1="38.90" y1="551.87" x2="40.70" y2="551.87" stroke="#969696" stroke-width="0.6"/>
<line x1="222.60" y1="551.87" x2="220.80" y2="551.87" stroke="#969696" stroke-width="0.6"/>
<text x="34.60" y="552.27" font-size="7.8" fill="#3c3c3c" text-anchor="end">1</text>
<line x1="38.90" y1="517.53" x2="40.70" y2="517.53" stroke="#969696" stroke-width="0.6"/>
<line x1="222.60" y1="517.53" x2="220.80" y2="517.53" stroke="#969696" stroke-width="0.6"/>
<text x="34.60" y="517.93" font-size="7.8" fill="#3c3c3c" text-anchor="end">2</text>
<line x1="38.90" y1="483.20" x2="40.70" y2="483.20" stroke="#969696" stroke-width="0.6"/>
<line x1="222.60" y1="483.20" x2="220.80" y2="483.20" stroke="#969696" stroke-width="0.6"/>
<text x="34.60" y="483.60" font-size="7.8" fill="#3c3c3c" text-anchor="end">3</text>
<polyline points="38.90,574.18 53.03,573.15 67.16,572.47 81.29,570.75 95.42,569.03 109.55,567.32 123.68,565.60 137.82,558.05 151.95,551.87 166.08,545.34 180.21,535.04 194.34,520.97 208.47,507.92 222.60,491.10" fill="none" stroke="#6f9ddb" stroke-width="2.7" stroke-linejoin="round" stroke-linecap="butt" clip-path="url(#cd)"/>
<polyline points="38.90,574.18 53.03,573.15 67.16,572.47 81.29,571.09 95.42,570.06 109.55,569.03 123.68,566.63 137.82,559.42 151.95,554.61 166.08,548.43 180.21,541.57 194.34,531.61 208.47,518.22 222.60,504.83" fill="none" stroke="#a9b9ce" stroke-width="2.7" stroke-linejoin="round" stroke-linecap="butt" clip-path="url(#cd)"/>
<polyline points="38.90,574.53 53.03,573.50 67.16,572.81 81.29,571.44 95.42,572.47 109.55,571.78 123.68,569.03 137.82,565.60 151.95,560.45 166.08,555.64 180.21,548.43 194.34,538.82 208.47,528.52 222.60,514.79" fill="none" stroke="#803840" stroke-width="2.7" stroke-linejoin="round" stroke-linecap="butt" clip-path="url(#cd)"/>
<text x="123.70" y="610.10" font-size="8.3" fill="#3a3a3a" text-anchor="middle">Input (dBm)</text>
<text x="23.80" y="546.00" font-size="8.4" fill="#3a3a3a" text-anchor="middle" transform="rotate(-90 23.80 546.00)">Output Voltage(V)</text>
<line x1="46.40" y1="495.70" x2="65.30" y2="495.70" stroke="#6f9ddb" stroke-width="2.6"/>
<text x="66.60" y="495.70" font-size="7.6" fill="#222">5.6GHz</text>
<line x1="46.40" y1="507.70" x2="65.30" y2="507.70" stroke="#a9b9ce" stroke-width="2.6"/>
<text x="66.60" y="507.70" font-size="7.6" fill="#222">5.8GHz</text>
<line x1="46.40" y1="519.70" x2="65.30" y2="519.70" stroke="#803840" stroke-width="2.6"/>
<text x="66.60" y="519.70" font-size="7.6" fill="#222">6.0GHz</text>
<text x="249.60" y="479.40" font-size="21.5" fill="#111">h</text>
<rect x="286.70" y="481.90" width="143.10" height="103.40" fill="none" stroke="#969696" stroke-width="0.8"/>
<line x1="286.70" y1="585.30" x2="286.70" y2="583.50" stroke="#969696" stroke-width="0.6"/>
<line x1="286.70" y1="481.90" x2="286.70" y2="483.70" stroke="#969696" stroke-width="0.6"/>
<text x="285.70" y="594.80" font-size="7.8" fill="#3c3c3c" text-anchor="middle">0</text>
<line x1="334.40" y1="585.30" x2="334.40" y2="583.50" stroke="#969696" stroke-width="0.6"/>
<line x1="334.40" y1="481.90" x2="334.40" y2="483.70" stroke="#969696" stroke-width="0.6"/>
<text x="333.40" y="594.80" font-size="7.8" fill="#3c3c3c" text-anchor="middle">1</text>
<line x1="382.10" y1="585.30" x2="382.10" y2="583.50" stroke="#969696" stroke-width="0.6"/>
<line x1="382.10" y1="481.90" x2="382.10" y2="483.70" stroke="#969696" stroke-width="0.6"/>
<text x="381.10" y="594.80" font-size="7.8" fill="#3c3c3c" text-anchor="middle">2</text>
<line x1="429.80" y1="585.30" x2="429.80" y2="583.50" stroke="#969696" stroke-width="0.6"/>
<line x1="429.80" y1="481.90" x2="429.80" y2="483.70" stroke="#969696" stroke-width="0.6"/>
<text x="428.80" y="594.80" font-size="7.8" fill="#3c3c3c" text-anchor="middle">3</text>
<line x1="286.70" y1="585.30" x2="288.50" y2="585.30" stroke="#969696" stroke-width="0.6"/>
<line x1="429.80" y1="585.30" x2="428.00" y2="585.30" stroke="#969696" stroke-width="0.6"/>
<text x="280.70" y="585.70" font-size="7.8" fill="#3c3c3c" text-anchor="end">0</text>
<line x1="286.70" y1="564.62" x2="288.50" y2="564.62" stroke="#969696" stroke-width="0.6"/>
<line x1="429.80" y1="564.62" x2="428.00" y2="564.62" stroke="#969696" stroke-width="0.6"/>
<text x="280.70" y="565.02" font-size="7.8" fill="#3c3c3c" text-anchor="end">5</text>
<line x1="286.70" y1="543.94" x2="288.50" y2="543.94" stroke="#969696" stroke-width="0.6"/>
<line x1="429.80" y1="543.94" x2="428.00" y2="543.94" stroke="#969696" stroke-width="0.6"/>
<text x="280.70" y="544.34" font-size="7.8" fill="#3c3c3c" text-anchor="end">10</text>
<line x1="286.70" y1="523.26" x2="288.50" y2="523.26" stroke="#969696" stroke-width="0.6"/>
<line x1="429.80" y1="523.26" x2="428.00" y2="523.26" stroke="#969696" stroke-width="0.6"/>
<text x="280.70" y="523.66" font-size="7.8" fill="#3c3c3c" text-anchor="end">15</text>
<line x1="286.70" y1="502.58" x2="288.50" y2="502.58" stroke="#969696" stroke-width="0.6"/>
<line x1="429.80" y1="502.58" x2="428.00" y2="502.58" stroke="#969696" stroke-width="0.6"/>
<text x="280.70" y="502.98" font-size="7.8" fill="#3c3c3c" text-anchor="end">20</text>
<line x1="286.70" y1="481.90" x2="288.50" y2="481.90" stroke="#969696" stroke-width="0.6"/>
<line x1="429.80" y1="481.90" x2="428.00" y2="481.90" stroke="#969696" stroke-width="0.6"/>
<text x="280.70" y="482.30" font-size="7.8" fill="#3c3c3c" text-anchor="end">25</text>
<polyline points="286.70,585.30 293.85,585.09 301.01,584.47 316.75,580.75 334.40,576.20 346.80,573.31 363.02,570.41 382.10,565.45 405.95,559.66 429.80,554.28" fill="none" stroke="#6f9ddb" stroke-width="2.7" stroke-linejoin="round" stroke-linecap="butt" clip-path="url(#ch)"/>
<polyline points="286.70,585.30 293.85,585.09 301.01,583.85 316.75,577.86 334.40,571.24 346.80,565.86 363.02,560.48 382.10,551.80 405.95,541.46 429.80,532.77" fill="none" stroke="#a9b9ce" stroke-width="2.7" stroke-linejoin="round" stroke-linecap="butt" clip-path="url(#ch)"/>
<polyline points="286.70,585.30 291.47,585.22 296.24,584.47 301.01,581.99 308.16,578.27 316.75,573.31 324.86,567.10 334.40,560.07 346.80,550.56 363.02,541.04 382.10,526.16 405.95,507.96 429.80,492.24" fill="none" stroke="#803840" stroke-width="2.7" stroke-linejoin="round" stroke-linecap="butt" clip-path="url(#ch)"/>
<text x="351.70" y="609.00" font-size="8.3" fill="#3a3a3a" text-anchor="middle">Input (mW)</text>
<text x="266.80" y="541.80" font-size="8.3" fill="#3a3a3a" text-anchor="middle" transform="rotate(-90 266.80 541.80)">Output (mW)</text>
<line x1="292.20" y1="495.70" x2="311.40" y2="495.70" stroke="#6f9ddb" stroke-width="2.6"/>
<text x="313.00" y="495.90" font-size="7.7" fill="#222">VCC=1V</text>
<line x1="292.20" y1="507.80" x2="311.40" y2="507.80" stroke="#a9b9ce" stroke-width="2.6"/>
<text x="313.00" y="508.00" font-size="7.7" fill="#222">VCC=2V</text>
<line x1="292.20" y1="519.90" x2="311.40" y2="519.90" stroke="#803840" stroke-width="2.6"/>
<text x="313.00" y="520.10" font-size="7.7" fill="#222">VCC=5V</text>
<text x="438.60" y="479.00" font-size="22" fill="#111">k</text>
<rect x="472.20" y="486.80" width="67.60" height="98.40" fill="#e7e8ea"/>
<line x1="539.80" y1="486.80" x2="539.80" y2="585.20" stroke="#a9a9a9" stroke-width="0.9" stroke-dasharray="3.6 1.8"/>
<rect x="472.20" y="486.80" width="202.80" height="98.40" fill="none" stroke="#969696" stroke-width="0.8"/>
<line x1="472.20" y1="585.20" x2="472.20" y2="583.40" stroke="#969696" stroke-width="0.6"/>
<line x1="472.20" y1="486.80" x2="472.20" y2="488.60" stroke="#969696" stroke-width="0.6"/>
<text x="471.20" y="594.60" font-size="7.6" fill="#3c3c3c" text-anchor="middle">0</text>
<line x1="539.80" y1="585.20" x2="539.80" y2="583.40" stroke="#969696" stroke-width="0.6"/>
<line x1="539.80" y1="486.80" x2="539.80" y2="488.60" stroke="#969696" stroke-width="0.6"/>
<text x="538.80" y="594.60" font-size="7.6" fill="#3c3c3c" text-anchor="middle">1</text>
<line x1="607.40" y1="585.20" x2="607.40" y2="583.40" stroke="#969696" stroke-width="0.6"/>
<line x1="607.40" y1="486.80" x2="607.40" y2="488.60" stroke="#969696" stroke-width="0.6"/>
<text x="606.40" y="594.60" font-size="7.6" fill="#3c3c3c" text-anchor="middle">2</text>
<line x1="675.00" y1="585.20" x2="675.00" y2="583.40" stroke="#969696" stroke-width="0.6"/>
<line x1="675.00" y1="486.80" x2="675.00" y2="488.60" stroke="#969696" stroke-width="0.6"/>
<text x="674.00" y="594.60" font-size="7.6" fill="#3c3c3c" text-anchor="middle">3</text>
<line x1="472.20" y1="585.20" x2="474.00" y2="585.20" stroke="#969696" stroke-width="0.6"/>
<line x1="675.00" y1="585.20" x2="673.20" y2="585.20" stroke="#969696" stroke-width="0.6"/>
<text x="466.80" y="585.20" font-size="7.6" fill="#3c3c3c" text-anchor="end">0</text>
<line x1="472.20" y1="565.52" x2="474.00" y2="565.52" stroke="#969696" stroke-width="0.6"/>
<line x1="675.00" y1="565.52" x2="673.20" y2="565.52" stroke="#969696" stroke-width="0.6"/>
<text x="466.80" y="565.52" font-size="7.6" fill="#3c3c3c" text-anchor="end">5</text>
<line x1="472.20" y1="545.84" x2="474.00" y2="545.84" stroke="#969696" stroke-width="0.6"/>
<line x1="675.00" y1="545.84" x2="673.20" y2="545.84" stroke="#969696" stroke-width="0.6"/>
<text x="466.80" y="545.84" font-size="7.6" fill="#3c3c3c" text-anchor="end">10</text>
<line x1="472.20" y1="526.16" x2="474.00" y2="526.16" stroke="#969696" stroke-width="0.6"/>
<line x1="675.00" y1="526.16" x2="673.20" y2="526.16" stroke="#969696" stroke-width="0.6"/>
<text x="466.80" y="526.16" font-size="7.6" fill="#3c3c3c" text-anchor="end">15</text>
<line x1="472.20" y1="506.48" x2="474.00" y2="506.48" stroke="#969696" stroke-width="0.6"/>
<line x1="675.00" y1="506.48" x2="673.20" y2="506.48" stroke="#969696" stroke-width="0.6"/>
<text x="466.80" y="506.48" font-size="7.6" fill="#3c3c3c" text-anchor="end">20</text>
<line x1="472.20" y1="486.80" x2="474.00" y2="486.80" stroke="#969696" stroke-width="0.6"/>
<line x1="675.00" y1="486.80" x2="673.20" y2="486.80" stroke="#969696" stroke-width="0.6"/>
<text x="466.80" y="486.80" font-size="7.6" fill="#3c3c3c" text-anchor="end">25</text>
<text x="570.50" y="480.60" font-size="8.5" fill="#222" text-anchor="middle">ReLU</text>
<text x="505.00" y="498.70" font-size="10" fill="#8c8c8c" text-anchor="middle">Blocked</text>
<text x="505.00" y="510.50" font-size="10" fill="#8c8c8c" text-anchor="middle">area</text>
<text x="583.80" y="498.70" font-size="10" fill="#8a3036" text-anchor="middle">Activated</text>
<text x="583.80" y="510.50" font-size="10" fill="#8a3036" text-anchor="middle">area</text>
<text x="539.00" y="556.70" font-size="10" fill="#5f7fb2" text-anchor="middle">Gate</text>
<circle cx="474.23" cy="585.20" r="1.9" fill="none" stroke="#9c4a50" stroke-width="0.75"/>
<circle cx="475.58" cy="585.20" r="1.9" fill="none" stroke="#9c4a50" stroke-width="0.75"/>
<circle cx="476.93" cy="585.20" r="1.9" fill="none" stroke="#9c4a50" stroke-width="0.75"/>
<circle cx="478.28" cy="585.20" r="1.9" fill="none" stroke="#9c4a50" stroke-width="0.75"/>
<circle cx="479.64" cy="585.20" r="1.9" fill="none" stroke="#9c4a50" stroke-width="0.75"/>
<circle cx="481.66" cy="585.20" r="1.9" fill="none" stroke="#9c4a50" stroke-width="0.75"/>
<circle cx="483.69" cy="585.20" r="1.9" fill="none" stroke="#9c4a50" stroke-width="0.75"/>
<circle cx="485.72" cy="585.20" r="1.9" fill="none" stroke="#9c4a50" stroke-width="0.75"/>
<circle cx="488.42" cy="585.20" r="1.9" fill="none" stroke="#9c4a50" stroke-width="0.75"/>
<circle cx="491.13" cy="585.20" r="1.9" fill="none" stroke="#9c4a50" stroke-width="0.75"/>
<circle cx="495.86" cy="585.20" r="1.9" fill="none" stroke="#9c4a50" stroke-width="0.75"/>
<circle cx="502.62" cy="585.00" r="1.9" fill="none" stroke="#9c4a50" stroke-width="0.75"/>
<circle cx="510.73" cy="584.02" r="1.9" fill="none" stroke="#9c4a50" stroke-width="0.75"/>
<circle cx="520.87" cy="583.63" r="1.9" fill="none" stroke="#9c4a50" stroke-width="0.75"/>
<circle cx="533.04" cy="580.48" r="1.9" fill="none" stroke="#9c4a50" stroke-width="0.75"/>
<circle cx="548.59" cy="575.75" r="1.9" fill="none" stroke="#9c4a50" stroke-width="0.75"/>
<circle cx="568.19" cy="567.09" r="1.9" fill="none" stroke="#9c4a50" stroke-width="0.75"/>
<circle cx="592.53" cy="551.74" r="1.9" fill="none" stroke="#9c4a50" stroke-width="0.75"/>
<circle cx="624.30" cy="526.16" r="1.9" fill="none" stroke="#9c4a50" stroke-width="0.75"/>
<circle cx="662.83" cy="498.61" r="1.9" fill="none" stroke="#9c4a50" stroke-width="0.75"/>
<polyline points="472.20,585.20 539.80,585.20 675.00,486.80" fill="none" stroke="#2a3d70" stroke-width="2.4" stroke-linejoin="round" stroke-linecap="butt" clip-path="url(#ck)"/>
<circle cx="616.7" cy="565.4" r="1.9" fill="none" stroke="#9c4a50" stroke-width="0.8"/>
<text x="626.30" y="568.00" font-size="7.2" fill="#222">Meas.</text>
<line x1="609.90" y1="577.00" x2="622.40" y2="577.00" stroke="#2a3d70" stroke-width="1.6"/>
<text x="626.30" y="579.80" font-size="7.2" fill="#222">Fitted</text>
<text x="567.40" y="608.60" font-size="8.3" fill="#3a3a3a" text-anchor="middle">Input (mW)</text>
<text x="451.60" y="539.80" font-size="8.3" fill="#3a3a3a" text-anchor="middle" transform="rotate(-90 451.60 539.80)">Output (mW)</text>
<text x="253.60" y="626.50" font-size="23" fill="#111">i</text>
<rect x="288.20" y="635.70" width="138.70" height="102.20" fill="none" stroke="#969696" stroke-width="0.8"/>
<line x1="288.20" y1="737.90" x2="288.20" y2="736.10" stroke="#969696" stroke-width="0.6"/>
<line x1="288.20" y1="635.70" x2="288.20" y2="637.50" stroke="#969696" stroke-width="0.6"/>
<text x="287.20" y="747.40" font-size="7.8" fill="#3c3c3c" text-anchor="middle">-15</text>
<line x1="319.72" y1="737.90" x2="319.72" y2="736.10" stroke="#969696" stroke-width="0.6"/>
<line x1="319.72" y1="635.70" x2="319.72" y2="637.50" stroke="#969696" stroke-width="0.6"/>
<text x="318.72" y="747.40" font-size="7.8" fill="#3c3c3c" text-anchor="middle">-10</text>
<line x1="351.25" y1="737.90" x2="351.25" y2="736.10" stroke="#969696" stroke-width="0.6"/>
<line x1="351.25" y1="635.70" x2="351.25" y2="637.50" stroke="#969696" stroke-width="0.6"/>
<text x="350.25" y="747.40" font-size="7.8" fill="#3c3c3c" text-anchor="middle">-5</text>
<line x1="382.77" y1="737.90" x2="382.77" y2="736.10" stroke="#969696" stroke-width="0.6"/>
<line x1="382.77" y1="635.70" x2="382.77" y2="637.50" stroke="#969696" stroke-width="0.6"/>
<text x="381.77" y="747.40" font-size="7.8" fill="#3c3c3c" text-anchor="middle">0</text>
<line x1="414.29" y1="737.90" x2="414.29" y2="736.10" stroke="#969696" stroke-width="0.6"/>
<line x1="414.29" y1="635.70" x2="414.29" y2="637.50" stroke="#969696" stroke-width="0.6"/>
<text x="413.29" y="747.40" font-size="7.8" fill="#3c3c3c" text-anchor="middle">5</text>
<line x1="288.20" y1="723.30" x2="290.00" y2="723.30" stroke="#969696" stroke-width="0.6"/>
<line x1="426.90" y1="723.30" x2="425.10" y2="723.30" stroke="#969696" stroke-width="0.6"/>
<text x="282.20" y="723.60" font-size="7.8" fill="#3c3c3c" text-anchor="end">-10</text>
<line x1="288.20" y1="694.10" x2="290.00" y2="694.10" stroke="#969696" stroke-width="0.6"/>
<line x1="426.90" y1="694.10" x2="425.10" y2="694.10" stroke="#969696" stroke-width="0.6"/>
<text x="282.20" y="694.40" font-size="7.8" fill="#3c3c3c" text-anchor="end">0</text>
<line x1="288.20" y1="664.90" x2="290.00" y2="664.90" stroke="#969696" stroke-width="0.6"/>
<line x1="426.90" y1="664.90" x2="425.10" y2="664.90" stroke="#969696" stroke-width="0.6"/>
<text x="282.20" y="665.20" font-size="7.8" fill="#3c3c3c" text-anchor="end">10</text>
<line x1="288.20" y1="635.70" x2="290.00" y2="635.70" stroke="#969696" stroke-width="0.6"/>
<line x1="426.90" y1="635.70" x2="425.10" y2="635.70" stroke="#969696" stroke-width="0.6"/>
<text x="282.20" y="636.00" font-size="7.8" fill="#3c3c3c" text-anchor="end">20</text>
<polyline points="288.20,737.90 294.50,737.90 300.81,706.36 307.11,699.94 313.42,699.94 319.72,694.10 326.03,685.34 332.33,679.50 338.64,676.58 344.94,673.66 357.55,669.86 370.16,667.82 382.77,666.94 401.68,666.07 426.90,664.90" fill="none" stroke="#6f9ddb" stroke-width="2.7" stroke-linejoin="round" stroke-linecap="butt" clip-path="url(#ci)"/>
<polyline points="288.20,737.90 319.72,737.90 326.03,721.84 332.33,716.00 338.64,716.00 344.94,708.70 351.25,701.40 357.55,694.10 363.85,688.26 370.16,685.34 376.46,678.04 382.77,675.12 389.07,672.20 395.38,670.74 407.99,668.70 426.90,666.94" fill="none" stroke="#a9b9ce" stroke-width="2.7" stroke-linejoin="round" stroke-linecap="butt" clip-path="url(#ci)"/>
<polyline points="288.20,737.90 344.94,737.90 351.25,733.52 357.55,717.46 363.85,705.78 370.16,701.40 376.46,695.56 382.77,686.80 389.07,687.68 395.38,682.42 401.68,676.58 407.99,673.66 414.29,670.74 420.60,668.70 426.90,669.28" fill="none" stroke="#8e8e90" stroke-width="2.7" stroke-linejoin="round" stroke-linecap="butt" clip-path="url(#ci)"/>
<polyline points="288.20,737.90 370.16,737.90 376.46,717.46 382.77,705.78 389.07,701.40 395.38,698.48 401.68,689.72 407.99,684.76 414.29,679.50 420.60,676.00 426.90,673.66" fill="none" stroke="#803840" stroke-width="2.7" stroke-linejoin="round" stroke-linecap="butt" clip-path="url(#ci)"/>
<text x="350.50" y="762.40" font-size="8.3" fill="#3a3a3a" text-anchor="middle">Input (dBm)</text>
<text x="262.00" y="693.00" font-size="8.3" fill="#3a3a3a" text-anchor="middle" transform="rotate(-90 262.00 693.00)">S21 (dB)</text>
<line x1="291.70" y1="643.60" x2="309.50" y2="643.60" stroke="#6f9ddb" stroke-width="2.4"/>
<text x="311.50" y="643.90" font-size="5.25" fill="#151515">Vbias=1.2V</text>
<line x1="291.70" y1="651.70" x2="309.50" y2="651.70" stroke="#a9b9ce" stroke-width="2.4"/>
<text x="311.50" y="652.00" font-size="5.25" fill="#151515">Vbias=0.9V</text>
<line x1="291.70" y1="659.80" x2="309.50" y2="659.80" stroke="#8e8e90" stroke-width="2.4"/>
<text x="311.50" y="660.10" font-size="5.25" fill="#151515">Vbias=0.5V</text>
<line x1="291.70" y1="667.90" x2="309.50" y2="667.90" stroke="#803840" stroke-width="2.4"/>
<text x="311.50" y="668.20" font-size="5.25" fill="#151515">Vbias=0V</text>
<text x="442.40" y="627.20" font-size="21" fill="#111">l</text>
<rect x="472.90" y="635.00" width="119.91" height="103.00" fill="#e3e5e8"/>
<rect x="506.92" y="635.00" width="85.89" height="103.00" fill="#d9dbde"/>
<rect x="540.27" y="635.00" width="52.55" height="103.00" fill="#cdcfd1"/>
<text x="574.40" y="632.50" font-size="10.6" fill="#222" text-anchor="middle">ReLU with Reconfigurable Gate</text>
<line x1="481.12" y1="635.00" x2="481.12" y2="738.00" stroke="#5c9bd8" stroke-width="1.25" stroke-dasharray="3.5 1.75"/>
<line x1="506.92" y1="635.00" x2="506.92" y2="738.00" stroke="#4a6ea8" stroke-width="1.25" stroke-dasharray="3.5 1.75"/>
<line x1="540.27" y1="635.00" x2="540.27" y2="738.00" stroke="#a9a9a9" stroke-width="1.25" stroke-dasharray="3.5 1.75"/>
<line x1="592.81" y1="635.00" x2="592.81" y2="738.00" stroke="#a45058" stroke-width="1.25" stroke-dasharray="3.5 1.75"/>
<rect x="472.90" y="635.00" width="202.10" height="103.00" fill="none" stroke="#969696" stroke-width="0.8"/>
<line x1="472.90" y1="738.00" x2="472.90" y2="736.20" stroke="#969696" stroke-width="0.6"/>
<line x1="472.90" y1="635.00" x2="472.90" y2="636.80" stroke="#969696" stroke-width="0.6"/>
<text x="471.90" y="747.50" font-size="7.8" fill="#3c3c3c" text-anchor="middle">0</text>
<line x1="540.27" y1="738.00" x2="540.27" y2="736.20" stroke="#969696" stroke-width="0.6"/>
<line x1="540.27" y1="635.00" x2="540.27" y2="636.80" stroke="#969696" stroke-width="0.6"/>
<text x="539.27" y="747.50" font-size="7.8" fill="#3c3c3c" text-anchor="middle">1</text>
<line x1="607.63" y1="738.00" x2="607.63" y2="736.20" stroke="#969696" stroke-width="0.6"/>
<line x1="607.63" y1="635.00" x2="607.63" y2="636.80" stroke="#969696" stroke-width="0.6"/>
<text x="606.63" y="747.50" font-size="7.8" fill="#3c3c3c" text-anchor="middle">2</text>
<line x1="675.00" y1="738.00" x2="675.00" y2="736.20" stroke="#969696" stroke-width="0.6"/>
<line x1="675.00" y1="635.00" x2="675.00" y2="636.80" stroke="#969696" stroke-width="0.6"/>
<text x="674.00" y="747.50" font-size="7.8" fill="#3c3c3c" text-anchor="middle">3</text>
<line x1="472.90" y1="738.00" x2="474.70" y2="738.00" stroke="#969696" stroke-width="0.6"/>
<line x1="675.00" y1="738.00" x2="673.20" y2="738.00" stroke="#969696" stroke-width="0.6"/>
<text x="466.90" y="738.30" font-size="7.8" fill="#3c3c3c" text-anchor="end">0</text>
<line x1="472.90" y1="717.40" x2="474.70" y2="717.40" stroke="#969696" stroke-width="0.6"/>
<line x1="675.00" y1="717.40" x2="673.20" y2="717.40" stroke="#969696" stroke-width="0.6"/>
<text x="466.90" y="717.70" font-size="7.8" fill="#3c3c3c" text-anchor="end">5</text>
<line x1="472.90" y1="696.80" x2="474.70" y2="696.80" stroke="#969696" stroke-width="0.6"/>
<line x1="675.00" y1="696.80" x2="673.20" y2="696.80" stroke="#969696" stroke-width="0.6"/>
<text x="466.90" y="697.10" font-size="7.8" fill="#3c3c3c" text-anchor="end">10</text>
<line x1="472.90" y1="676.20" x2="474.70" y2="676.20" stroke="#969696" stroke-width="0.6"/>
<line x1="675.00" y1="676.20" x2="673.20" y2="676.20" stroke="#969696" stroke-width="0.6"/>
<text x="466.90" y="676.50" font-size="7.8" fill="#3c3c3c" text-anchor="end">15</text>
<line x1="472.90" y1="655.60" x2="474.70" y2="655.60" stroke="#969696" stroke-width="0.6"/>
<line x1="675.00" y1="655.60" x2="673.20" y2="655.60" stroke="#969696" stroke-width="0.6"/>
<text x="466.90" y="655.90" font-size="7.8" fill="#3c3c3c" text-anchor="end">20</text>
<line x1="472.90" y1="635.00" x2="474.70" y2="635.00" stroke="#969696" stroke-width="0.6"/>
<line x1="675.00" y1="635.00" x2="673.20" y2="635.00" stroke="#969696" stroke-width="0.6"/>
<text x="466.90" y="635.30" font-size="7.8" fill="#3c3c3c" text-anchor="end">25</text>
<polyline points="481.12,738.00 688.47,614.99" fill="none" stroke="#6683ad" stroke-width="2.6" stroke-linejoin="round" stroke-linecap="butt" clip-path="url(#cl)"/>
<polyline points="506.92,738.00 688.47,635.85" fill="none" stroke="#526e9c" stroke-width="2.6" stroke-linejoin="round" stroke-linecap="butt" clip-path="url(#cl)"/>
<polyline points="540.27,738.00 688.47,660.96" fill="none" stroke="#3e578a" stroke-width="2.6" stroke-linejoin="round" stroke-linecap="butt" clip-path="url(#cl)"/>
<polyline points="592.81,738.00 688.47,690.61" fill="none" stroke="#27396e" stroke-width="2.6" stroke-linejoin="round" stroke-linecap="butt" clip-path="url(#cl)"/>
<polyline points="472.90,738.00 592.81,738.00" fill="none" stroke="#2a3a6e" stroke-width="2.2" stroke-linejoin="round" stroke-linecap="butt" clip-path="url(#cl)"/>
<polyline points="472.90,738.00 506.58,738.00" fill="none" stroke="#803840" stroke-width="2.0" stroke-linejoin="round" stroke-linecap="butt" clip-path="url(#cl)"/>
<rect x="474.60" y="654.60" width="149.60" height="3.10" fill="url(#larr)"/>
<polygon points="630.20,656.10 623.40,652.90 623.40,659.30" fill="#a05a62"/>
<text x="483.4" y="652.3" font-size="9.4" fill="#5c9bd8" font-style="italic" stroke="#5c9bd8" stroke-width="0.3">P<tspan font-size="6" dy="1.8" font-style="normal">TH1</tspan></text>
<text x="508.8" y="652.3" font-size="9.4" fill="#44649c" font-style="italic" stroke="#44649c" stroke-width="0.3">P<tspan font-size="6" dy="1.8" font-style="normal">TH2</tspan></text>
<text x="542.8" y="652.3" font-size="9.4" fill="#9c9c9c" font-style="italic">P<tspan font-size="6" dy="1.8" font-style="normal">TH3</tspan></text>
<text x="595.4" y="652.3" font-size="9.4" fill="#8b2a30" font-style="italic" stroke="#8b2a30" stroke-width="0.3">P<tspan font-size="6" dy="1.8" font-style="normal">TH4</tspan></text>
<text x="483.2" y="713.6" font-size="8.6" fill="#5c9bd8" font-style="italic">V<tspan font-size="5.4" dy="1.6">bias</tspan><tspan dy="-1.6" font-style="normal"> =</tspan></text>
<text x="483.20" y="725.40" font-size="8.6" fill="#5c9bd8">1.2 V</text>
<text x="515.60" y="725.40" font-size="8.6" fill="#6d84aa" font-style="italic">0.9 V</text>
<text x="547.20" y="725.40" font-size="8.6" fill="#9a9a9a" font-style="italic">0.5V</text>
<text x="597.40" y="725.40" font-size="8.6" fill="#8b2a30" font-style="italic">0V</text>
<circle cx="483.00" cy="737.18" r="0.9" fill="#8b3038" opacity="0.85"/>
<circle cx="486.37" cy="735.94" r="0.9" fill="#8b3038" opacity="0.85"/>
<circle cx="489.74" cy="733.88" r="0.9" fill="#8b3038" opacity="0.85"/>
<circle cx="494.46" cy="731.41" r="0.9" fill="#8b3038" opacity="0.85"/>
<circle cx="499.85" cy="728.11" r="0.9" fill="#8b3038" opacity="0.85"/>
<circle cx="506.58" cy="723.99" r="0.9" fill="#8b3038" opacity="0.85"/>
<circle cx="515.34" cy="717.81" r="0.9" fill="#8b3038" opacity="0.85"/>
<circle cx="526.79" cy="709.16" r="0.9" fill="#8b3038" opacity="0.85"/>
<circle cx="557.78" cy="691.86" r="0.9" fill="#8b3038" opacity="0.85"/>
<circle cx="580.69" cy="676.20" r="0.9" fill="#8b3038" opacity="0.85"/>
<circle cx="607.63" cy="664.66" r="0.9" fill="#8b3038" opacity="0.85"/>
<circle cx="515.34" cy="733.47" r="0.9" fill="#8b3038" opacity="0.85"/>
<circle cx="526.79" cy="726.46" r="0.9" fill="#8b3038" opacity="0.85"/>
<circle cx="540.27" cy="719.05" r="0.9" fill="#8b3038" opacity="0.85"/>
<circle cx="557.78" cy="704.22" r="0.9" fill="#8b3038" opacity="0.85"/>
<circle cx="580.69" cy="697.62" r="0.9" fill="#8b3038" opacity="0.85"/>
<circle cx="607.63" cy="682.79" r="0.9" fill="#8b3038" opacity="0.85"/>
<circle cx="642.66" cy="667.14" r="0.9" fill="#8b3038" opacity="0.85"/>
<circle cx="557.78" cy="728.11" r="0.9" fill="#8b3038" opacity="0.85"/>
<circle cx="580.69" cy="716.58" r="0.9" fill="#8b3038" opacity="0.85"/>
<circle cx="607.63" cy="700.92" r="0.9" fill="#8b3038" opacity="0.85"/>
<circle cx="642.66" cy="681.97" r="0.9" fill="#8b3038" opacity="0.85"/>
<circle cx="607.63" cy="728.94" r="0.9" fill="#8b3038" opacity="0.85"/>
<circle cx="642.66" cy="710.81" r="0.9" fill="#8b3038" opacity="0.85"/>
<circle cx="557.78" cy="735.53" r="0.9" fill="#8b3038" opacity="0.85"/>
<circle cx="580.69" cy="733.88" r="0.9" fill="#8b3038" opacity="0.85"/>
<circle cx="540.27" cy="733.88" r="0.9" fill="#8b3038" opacity="0.85"/>
<circle cx="526.79" cy="735.53" r="0.9" fill="#8b3038" opacity="0.85"/>
<circle cx="476.27" cy="738.00" r="0.9" fill="#8b3038" opacity="0.85"/>
<circle cx="479.64" cy="738.00" r="0.9" fill="#8b3038" opacity="0.85"/>
<circle cx="483.68" cy="738.00" r="0.9" fill="#8b3038" opacity="0.85"/>
<circle cx="487.72" cy="738.00" r="0.9" fill="#8b3038" opacity="0.85"/>
<circle cx="491.76" cy="738.00" r="0.9" fill="#8b3038" opacity="0.85"/>
<circle cx="496.48" cy="738.00" r="0.9" fill="#8b3038" opacity="0.85"/>
<circle cx="501.19" cy="738.00" r="0.9" fill="#8b3038" opacity="0.85"/>
<circle cx="506.58" cy="737.59" r="0.9" fill="#8b3038" opacity="0.85"/>
<text x="570.50" y="762.60" font-size="8.3" fill="#3a3a3a" text-anchor="middle">Input (mW)</text>
<text x="451.40" y="695.00" font-size="8.3" fill="#3a3a3a" text-anchor="middle" transform="rotate(-90 451.40 695.00)">Output (mW)</text>
<text x="2.00" y="782.40" font-size="23" fill="#111">f</text>
<rect x="31.30" y="778.40" width="91.70" height="107.80" fill="none" stroke="#969696" stroke-width="0.8"/>
<line x1="31.30" y1="886.20" x2="31.30" y2="884.40" stroke="#969696" stroke-width="0.6"/>
<line x1="31.30" y1="778.40" x2="31.30" y2="780.20" stroke="#969696" stroke-width="0.6"/>
<text x="30.30" y="894.40" font-size="6.3" fill="#3c3c3c" text-anchor="middle">0</text>
<line x1="67.98" y1="886.20" x2="67.98" y2="884.40" stroke="#969696" stroke-width="0.6"/>
<line x1="67.98" y1="778.40" x2="67.98" y2="780.20" stroke="#969696" stroke-width="0.6"/>
<text x="66.98" y="894.40" font-size="6.3" fill="#3c3c3c" text-anchor="middle">2</text>
<line x1="104.66" y1="886.20" x2="104.66" y2="884.40" stroke="#969696" stroke-width="0.6"/>
<line x1="104.66" y1="778.40" x2="104.66" y2="780.20" stroke="#969696" stroke-width="0.6"/>
<text x="103.66" y="894.40" font-size="6.3" fill="#3c3c3c" text-anchor="middle">4</text>
<line x1="31.30" y1="872.66" x2="33.10" y2="872.66" stroke="#969696" stroke-width="0.6"/>
<line x1="123.00" y1="872.66" x2="121.20" y2="872.66" stroke="#969696" stroke-width="0.6"/>
<text x="25.30" y="873.16" font-size="6.3" fill="#3c3c3c" text-anchor="end">-20</text>
<line x1="31.30" y1="845.57" x2="33.10" y2="845.57" stroke="#969696" stroke-width="0.6"/>
<line x1="123.00" y1="845.57" x2="121.20" y2="845.57" stroke="#969696" stroke-width="0.6"/>
<text x="25.30" y="846.07" font-size="6.3" fill="#3c3c3c" text-anchor="end">-10</text>
<line x1="31.30" y1="818.49" x2="33.10" y2="818.49" stroke="#969696" stroke-width="0.6"/>
<line x1="123.00" y1="818.49" x2="121.20" y2="818.49" stroke="#969696" stroke-width="0.6"/>
<text x="25.30" y="818.99" font-size="6.3" fill="#3c3c3c" text-anchor="end">0</text>
<line x1="31.30" y1="791.40" x2="33.10" y2="791.40" stroke="#969696" stroke-width="0.6"/>
<line x1="123.00" y1="791.40" x2="121.20" y2="791.40" stroke="#969696" stroke-width="0.6"/>
<text x="25.30" y="791.90" font-size="6.3" fill="#3c3c3c" text-anchor="end">10</text>
<polyline points="31.30,863.18 38.64,863.72 40.47,859.11 42.30,853.70 45.97,849.09 53.31,844.22 60.64,842.32 67.98,840.97 75.32,838.26 82.65,836.63 91.82,836.90 97.32,835.55 123.00,834.20" fill="none" stroke="#44567f" stroke-width="2.7" stroke-linejoin="round" stroke-linecap="butt" clip-path="url(#cf)"/>
<polyline points="31.30,869.95 38.64,871.30 40.47,861.82 42.30,845.57 45.97,832.03 49.64,827.97 56.98,825.80 64.31,822.55 73.48,816.32 77.15,818.76 82.65,816.86 91.82,816.05 95.49,813.88 104.66,812.53 123.00,810.09" fill="none" stroke="#8597b9" stroke-width="2.7" stroke-linejoin="round" stroke-linecap="butt" clip-path="url(#cf)"/>
<polyline points="31.30,869.95 38.64,868.59 41.39,845.57 45.05,821.19 47.81,816.05 53.31,812.26 67.98,809.55 78.98,807.11 95.49,805.21 104.66,804.40 123.00,801.69" fill="none" stroke="#ead3d5" stroke-width="2.7" stroke-linejoin="round" stroke-linecap="butt" clip-path="url(#cf)"/>
<polyline points="31.30,870.76 38.64,868.59 41.39,842.86 45.05,814.42 49.64,807.11 53.31,804.94 67.98,803.05 78.98,800.34 95.49,798.98 104.66,798.17 123.00,793.84" fill="none" stroke="#b27c82" stroke-width="2.7" stroke-linejoin="round" stroke-linecap="butt" clip-path="url(#cf)"/>
<polyline points="31.30,871.30 38.64,869.14 40.47,856.41 42.30,834.74 45.05,810.36 49.64,800.88 53.31,796.82 56.98,794.65 67.98,794.11 73.48,793.30 77.15,791.40 86.32,790.05 100.99,788.96 108.33,787.34 123.00,783.28" fill="none" stroke="#803840" stroke-width="2.7" stroke-linejoin="round" stroke-linecap="butt" clip-path="url(#cf)"/>
<text x="73.20" y="904.60" font-size="7" fill="#3a3a3a" text-anchor="middle">VCC(V)</text>
<text x="9.40" y="837.00" font-size="7.4" fill="#3a3a3a" text-anchor="middle" transform="rotate(-90 9.40 837.00)">S21 (dB)</text>
<line x1="67.40" y1="849.60" x2="86.40" y2="849.60" stroke="#44567f" stroke-width="2.6"/>
<text x="88.00" y="849.90" font-size="4.8" fill="#151515">Vctrl=1.3V</text>
<line x1="67.40" y1="857.45" x2="86.40" y2="857.45" stroke="#8597b9" stroke-width="2.6"/>
<text x="88.00" y="857.75" font-size="4.8" fill="#151515">Vctrl=1.5V</text>
<line x1="67.40" y1="865.30" x2="86.40" y2="865.30" stroke="#ead3d5" stroke-width="2.6"/>
<text x="88.00" y="865.60" font-size="4.8" fill="#151515">Vctrl=1.8V</text>
<line x1="67.40" y1="873.15" x2="86.40" y2="873.15" stroke="#b27c82" stroke-width="2.6"/>
<text x="88.00" y="873.45" font-size="4.8" fill="#151515">Vctrl=2V</text>
<line x1="67.40" y1="881.00" x2="86.40" y2="881.00" stroke="#803840" stroke-width="2.6"/>
<text x="88.00" y="881.30" font-size="4.8" fill="#151515">Vctrl=3V</text>
<text x="128.60" y="780.00" font-size="22" fill="#111">g</text>
<rect x="155.10" y="779.40" width="91.70" height="107.80" fill="none" stroke="#969696" stroke-width="0.8"/>
<line x1="155.10" y1="887.20" x2="155.10" y2="885.40" stroke="#969696" stroke-width="0.6"/>
<line x1="155.10" y1="779.40" x2="155.10" y2="781.20" stroke="#969696" stroke-width="0.6"/>
<text x="154.10" y="895.40" font-size="6.3" fill="#3c3c3c" text-anchor="middle">0</text>
<line x1="185.67" y1="887.20" x2="185.67" y2="885.40" stroke="#969696" stroke-width="0.6"/>
<line x1="185.67" y1="779.40" x2="185.67" y2="781.20" stroke="#969696" stroke-width="0.6"/>
<text x="184.67" y="895.40" font-size="6.3" fill="#3c3c3c" text-anchor="middle">1</text>
<line x1="216.23" y1="887.20" x2="216.23" y2="885.40" stroke="#969696" stroke-width="0.6"/>
<line x1="216.23" y1="779.40" x2="216.23" y2="781.20" stroke="#969696" stroke-width="0.6"/>
<text x="215.23" y="895.40" font-size="6.3" fill="#3c3c3c" text-anchor="middle">2</text>
<line x1="246.80" y1="887.20" x2="246.80" y2="885.40" stroke="#969696" stroke-width="0.6"/>
<line x1="246.80" y1="779.40" x2="246.80" y2="781.20" stroke="#969696" stroke-width="0.6"/>
<text x="245.80" y="895.40" font-size="6.3" fill="#3c3c3c" text-anchor="middle">3</text>
<line x1="155.10" y1="887.20" x2="156.90" y2="887.20" stroke="#969696" stroke-width="0.6"/>
<line x1="246.80" y1="887.20" x2="245.00" y2="887.20" stroke="#969696" stroke-width="0.6"/>
<text x="149.90" y="887.70" font-size="6.3" fill="#3c3c3c" text-anchor="end">-15</text>
<line x1="155.10" y1="869.23" x2="156.90" y2="869.23" stroke="#969696" stroke-width="0.6"/>
<line x1="246.80" y1="869.23" x2="245.00" y2="869.23" stroke="#969696" stroke-width="0.6"/>
<text x="149.90" y="869.73" font-size="6.3" fill="#3c3c3c" text-anchor="end">-10</text>
<line x1="155.10" y1="851.27" x2="156.90" y2="851.27" stroke="#969696" stroke-width="0.6"/>
<line x1="246.80" y1="851.27" x2="245.00" y2="851.27" stroke="#969696" stroke-width="0.6"/>
<text x="149.90" y="851.77" font-size="6.3" fill="#3c3c3c" text-anchor="end">-5</text>
<line x1="155.10" y1="833.30" x2="156.90" y2="833.30" stroke="#969696" stroke-width="0.6"/>
<line x1="246.80" y1="833.30" x2="245.00" y2="833.30" stroke="#969696" stroke-width="0.6"/>
<text x="149.90" y="833.80" font-size="6.3" fill="#3c3c3c" text-anchor="end">0</text>
<line x1="155.10" y1="815.33" x2="156.90" y2="815.33" stroke="#969696" stroke-width="0.6"/>
<line x1="246.80" y1="815.33" x2="245.00" y2="815.33" stroke="#969696" stroke-width="0.6"/>
<text x="149.90" y="815.83" font-size="6.3" fill="#3c3c3c" text-anchor="end">5</text>
<line x1="155.10" y1="797.37" x2="156.90" y2="797.37" stroke="#969696" stroke-width="0.6"/>
<line x1="246.80" y1="797.37" x2="245.00" y2="797.37" stroke="#969696" stroke-width="0.6"/>
<text x="149.90" y="797.87" font-size="6.3" fill="#3c3c3c" text-anchor="end">10</text>
<line x1="155.10" y1="779.40" x2="156.90" y2="779.40" stroke="#969696" stroke-width="0.6"/>
<line x1="246.80" y1="779.40" x2="245.00" y2="779.40" stroke="#969696" stroke-width="0.6"/>
<text x="149.90" y="779.90" font-size="6.3" fill="#3c3c3c" text-anchor="end">15</text>
<polyline points="155.10,867.44 167.33,868.51 176.50,876.42 185.67,885.40 195.75,869.95 200.95,845.88 210.12,827.55 216.23,818.21 225.40,811.02 231.52,809.94 246.80,810.66" fill="none" stroke="#6f9ddb" stroke-width="2.2" stroke-linejoin="round" stroke-linecap="butt" clip-path="url(#cg)"/>
<polyline points="155.10,866.00 167.33,867.44 176.50,875.34 185.67,883.61 195.75,862.05 200.95,835.82 210.12,821.80 216.23,812.46 225.40,805.63 231.52,803.12 246.80,800.60" fill="none" stroke="#8e8e90" stroke-width="2.2" stroke-linejoin="round" stroke-linecap="butt" clip-path="url(#cg)"/>
<polyline points="155.10,859.17 167.33,859.53 176.50,869.59 185.67,875.70 194.84,854.86 200.95,822.16 210.12,811.74 216.23,800.96 225.40,792.70 231.52,789.46 246.80,786.23" fill="none" stroke="#803840" stroke-width="2.2" stroke-linejoin="round" stroke-linecap="butt" clip-path="url(#cg)"/>
<text x="196.60" y="905.20" font-size="7" fill="#3a3a3a" text-anchor="middle">VCTRL(V)</text>
<text x="133.60" y="837.60" font-size="7.4" fill="#3a3a3a" text-anchor="middle" transform="rotate(-90 133.60 837.60)">S21 (dB)</text>
<line x1="161.40" y1="789.40" x2="179.20" y2="789.40" stroke="#6f9ddb" stroke-width="2.1"/>
<text x="181.00" y="790.00" font-size="5.2" fill="#222">VCC=1V</text>
<line x1="161.40" y1="797.50" x2="179.20" y2="797.50" stroke="#8e8e90" stroke-width="2.1"/>
<text x="181.00" y="798.10" font-size="5.2" fill="#222">VCC=2V</text>
<line x1="161.40" y1="805.60" x2="179.20" y2="805.60" stroke="#803840" stroke-width="2.1"/>
<text x="181.00" y="806.20" font-size="5.2" fill="#222">VCC=5V</text>
<text x="256.40" y="780.00" font-size="22" fill="#111">j</text>
<rect x="287.60" y="778.40" width="138.70" height="102.80" fill="none" stroke="#969696" stroke-width="0.8"/>
<line x1="287.60" y1="881.20" x2="287.60" y2="879.40" stroke="#969696" stroke-width="0.6"/>
<line x1="287.60" y1="778.40" x2="287.60" y2="780.20" stroke="#969696" stroke-width="0.6"/>
<text x="286.60" y="890.70" font-size="7.8" fill="#3c3c3c" text-anchor="middle">-15</text>
<line x1="319.12" y1="881.20" x2="319.12" y2="879.40" stroke="#969696" stroke-width="0.6"/>
<line x1="319.12" y1="778.40" x2="319.12" y2="780.20" stroke="#969696" stroke-width="0.6"/>
<text x="318.12" y="890.70" font-size="7.8" fill="#3c3c3c" text-anchor="middle">-10</text>
<line x1="350.65" y1="881.20" x2="350.65" y2="879.40" stroke="#969696" stroke-width="0.6"/>
<line x1="350.65" y1="778.40" x2="350.65" y2="780.20" stroke="#969696" stroke-width="0.6"/>
<text x="349.65" y="890.70" font-size="7.8" fill="#3c3c3c" text-anchor="middle">-5</text>
<line x1="382.17" y1="881.20" x2="382.17" y2="879.40" stroke="#969696" stroke-width="0.6"/>
<line x1="382.17" y1="778.40" x2="382.17" y2="780.20" stroke="#969696" stroke-width="0.6"/>
<text x="381.17" y="890.70" font-size="7.8" fill="#3c3c3c" text-anchor="middle">0</text>
<line x1="413.69" y1="881.20" x2="413.69" y2="879.40" stroke="#969696" stroke-width="0.6"/>
<line x1="413.69" y1="778.40" x2="413.69" y2="780.20" stroke="#969696" stroke-width="0.6"/>
<text x="412.69" y="890.70" font-size="7.8" fill="#3c3c3c" text-anchor="middle">5</text>
<line x1="287.60" y1="881.20" x2="289.40" y2="881.20" stroke="#969696" stroke-width="0.6"/>
<line x1="426.30" y1="881.20" x2="424.50" y2="881.20" stroke="#969696" stroke-width="0.6"/>
<text x="281.60" y="881.50" font-size="7.8" fill="#3c3c3c" text-anchor="end">-20</text>
<line x1="287.60" y1="846.93" x2="289.40" y2="846.93" stroke="#969696" stroke-width="0.6"/>
<line x1="426.30" y1="846.93" x2="424.50" y2="846.93" stroke="#969696" stroke-width="0.6"/>
<text x="281.60" y="847.23" font-size="7.8" fill="#3c3c3c" text-anchor="end">-10</text>
<line x1="287.60" y1="812.67" x2="289.40" y2="812.67" stroke="#969696" stroke-width="0.6"/>
<line x1="426.30" y1="812.67" x2="424.50" y2="812.67" stroke="#969696" stroke-width="0.6"/>
<text x="281.60" y="812.97" font-size="7.8" fill="#3c3c3c" text-anchor="end">0</text>
<line x1="287.60" y1="778.40" x2="289.40" y2="778.40" stroke="#969696" stroke-width="0.6"/>
<line x1="426.30" y1="778.40" x2="424.50" y2="778.40" stroke="#969696" stroke-width="0.6"/>
<text x="281.60" y="778.70" font-size="7.8" fill="#3c3c3c" text-anchor="end">10</text>
<polyline points="287.60,874.69 306.51,874.69 312.82,867.49 319.12,862.35 331.73,848.65 338.04,841.79 344.34,828.43 350.65,824.66 356.95,817.81 363.25,813.01 375.86,807.87 382.17,805.81 394.78,804.10 407.39,802.73 426.30,801.36" fill="none" stroke="#8e8e90" stroke-width="2.7" stroke-linejoin="round" stroke-linecap="butt" clip-path="url(#cj)"/>
<polyline points="287.60,866.47 306.51,866.47 312.82,858.93 319.12,853.79 331.73,840.08 338.04,833.91 344.34,820.21 350.65,816.78 356.95,809.93 363.25,805.13 375.86,799.65 382.17,797.59 394.78,795.88 407.39,794.51 426.30,793.13" fill="none" stroke="#6f9ddb" stroke-width="2.7" stroke-linejoin="round" stroke-linecap="butt" clip-path="url(#cj)"/>
<polyline points="287.60,854.47 306.51,854.47 312.82,847.62 319.12,842.82 331.73,829.80 338.04,822.95 344.34,808.55 350.65,805.13 356.95,798.27 363.25,793.82 375.86,787.99 382.17,785.94 394.78,784.23 407.39,782.51 426.30,781.48" fill="none" stroke="#803840" stroke-width="2.7" stroke-linejoin="round" stroke-linecap="butt" clip-path="url(#cj)"/>
<text x="349.80" y="904.90" font-size="8.3" fill="#3a3a3a" text-anchor="middle">Input (dBm)</text>
<text x="262.00" y="835.40" font-size="8.3" fill="#3a3a3a" text-anchor="middle" transform="rotate(-90 262.00 835.40)">S21 (dB)</text>
<line x1="365.50" y1="844.40" x2="384.00" y2="844.40" stroke="#6f9ddb" stroke-width="2.7"/>
<text x="386.00" y="843.60" font-size="7.4" fill="#222">Vcc=1V</text>
<line x1="365.50" y1="856.40" x2="384.00" y2="856.40" stroke="#8e8e90" stroke-width="2.7"/>
<text x="386.00" y="855.60" font-size="7.4" fill="#222">Vcc=2V</text>
<line x1="365.50" y1="868.40" x2="384.00" y2="868.40" stroke="#803840" stroke-width="2.7"/>
<text x="386.00" y="867.60" font-size="7.4" fill="#222">Vcc=5V</text>
<text x="439.00" y="774.20" font-size="22" fill="#111">m</text>
<rect x="472.90" y="779.50" width="50.35" height="102.60" fill="#ebebed"/>
<g clip-path="url(#cm)">
<polygon points="525.77,882.10 686.89,766.70 686.89,804.94" fill="#c0d0ec"/>
<polygon points="525.77,882.10 686.89,804.94 686.89,826.94" fill="#d7e2f3"/>
<polygon points="525.77,882.10 686.89,826.94 686.89,882.10" fill="#edf1fa"/>
</g>
<line x1="523.25" y1="779.50" x2="523.25" y2="882.10" stroke="#b0b0b0" stroke-width="1.0" stroke-dasharray="3.6 1.8"/>
<text x="579.00" y="776.00" font-size="10.35" fill="#222" text-anchor="middle">ReLU with Reconfigurable Slope</text>
<rect x="472.90" y="779.50" width="201.40" height="102.60" fill="none" stroke="#969696" stroke-width="0.8"/>
<line x1="472.90" y1="882.10" x2="472.90" y2="880.30" stroke="#969696" stroke-width="0.6"/>
<line x1="472.90" y1="779.50" x2="472.90" y2="781.30" stroke="#969696" stroke-width="0.6"/>
<text x="471.90" y="891.60" font-size="7.6" fill="#3c3c3c" text-anchor="middle">0</text>
<line x1="523.25" y1="882.10" x2="523.25" y2="880.30" stroke="#969696" stroke-width="0.6"/>
<line x1="523.25" y1="779.50" x2="523.25" y2="781.30" stroke="#969696" stroke-width="0.6"/>
<text x="522.25" y="891.60" font-size="7.6" fill="#3c3c3c" text-anchor="middle">0.2</text>
<line x1="573.60" y1="882.10" x2="573.60" y2="880.30" stroke="#969696" stroke-width="0.6"/>
<line x1="573.60" y1="779.50" x2="573.60" y2="781.30" stroke="#969696" stroke-width="0.6"/>
<text x="572.60" y="891.60" font-size="7.6" fill="#3c3c3c" text-anchor="middle">0.4</text>
<line x1="623.95" y1="882.10" x2="623.95" y2="880.30" stroke="#969696" stroke-width="0.6"/>
<line x1="623.95" y1="779.50" x2="623.95" y2="781.30" stroke="#969696" stroke-width="0.6"/>
<text x="622.95" y="891.60" font-size="7.6" fill="#3c3c3c" text-anchor="middle">0.6</text>
<line x1="674.30" y1="882.10" x2="674.30" y2="880.30" stroke="#969696" stroke-width="0.6"/>
<line x1="674.30" y1="779.50" x2="674.30" y2="781.30" stroke="#969696" stroke-width="0.6"/>
<text x="673.30" y="891.60" font-size="7.6" fill="#3c3c3c" text-anchor="middle">0.8</text>
<line x1="472.90" y1="882.10" x2="474.70" y2="882.10" stroke="#969696" stroke-width="0.6"/>
<line x1="674.30" y1="882.10" x2="672.50" y2="882.10" stroke="#969696" stroke-width="0.6"/>
<text x="468.30" y="882.30" font-size="7.6" fill="#3c3c3c" text-anchor="end">0</text>
<line x1="472.90" y1="856.45" x2="474.70" y2="856.45" stroke="#969696" stroke-width="0.6"/>
<line x1="674.30" y1="856.45" x2="672.50" y2="856.45" stroke="#969696" stroke-width="0.6"/>
<text x="468.30" y="856.65" font-size="7.6" fill="#3c3c3c" text-anchor="end">1</text>
<line x1="472.90" y1="830.80" x2="474.70" y2="830.80" stroke="#969696" stroke-width="0.6"/>
<line x1="674.30" y1="830.80" x2="672.50" y2="830.80" stroke="#969696" stroke-width="0.6"/>
<text x="468.30" y="831.00" font-size="7.6" fill="#3c3c3c" text-anchor="end">2</text>
<line x1="472.90" y1="805.15" x2="474.70" y2="805.15" stroke="#969696" stroke-width="0.6"/>
<line x1="674.30" y1="805.15" x2="672.50" y2="805.15" stroke="#969696" stroke-width="0.6"/>
<text x="468.30" y="805.35" font-size="7.6" fill="#3c3c3c" text-anchor="end">3</text>
<line x1="472.90" y1="779.50" x2="474.70" y2="779.50" stroke="#969696" stroke-width="0.6"/>
<line x1="674.30" y1="779.50" x2="672.50" y2="779.50" stroke="#969696" stroke-width="0.6"/>
<text x="468.30" y="779.70" font-size="7.6" fill="#3c3c3c" text-anchor="end">4</text>
<polyline points="525.77,882.10 686.89,826.94" fill="none" stroke="#55719e" stroke-width="2.4" stroke-linejoin="round" stroke-linecap="butt" clip-path="url(#cm)"/>
<polyline points="525.77,882.10 686.89,804.94" fill="none" stroke="#55719e" stroke-width="2.4" stroke-linejoin="round" stroke-linecap="butt" clip-path="url(#cm)"/>
<polyline points="525.77,882.10 686.89,766.70" fill="none" stroke="#55719e" stroke-width="2.4" stroke-linejoin="round" stroke-linecap="butt" clip-path="url(#cm)"/>
<polyline points="472.90,882.10 525.77,882.10" fill="none" stroke="#4c6694" stroke-width="2.2" stroke-linejoin="round" stroke-linecap="butt" clip-path="url(#cm)"/>
<rect x="611.80" y="788.00" width="3.40" height="88.00" fill="url(#marr)"/>
<polygon points="613.50,782.80 610.20,788.80 616.80,788.80" fill="#6990cb"/>
<text x="497.20" y="796.80" font-size="10" fill="#8c8c8c" text-anchor="middle">Blocked</text>
<text x="497.20" y="808.30" font-size="10" fill="#8c8c8c" text-anchor="middle">area</text>
<text x="550.20" y="796.80" font-size="10" fill="#8a3036" text-anchor="middle">Activated</text>
<text x="550.20" y="808.30" font-size="10" fill="#8a3036" text-anchor="middle">area</text>
<text x="620.60" y="822.60" font-size="10" fill="#2b2b2b">slope3</text>
<text x="620.60" y="843.00" font-size="10" fill="#2b2b2b">slope2</text>
<text x="620.60" y="863.00" font-size="10" fill="#8ea7d2">slope1</text>
<text x="592.00" y="843.00" font-size="10" fill="#2b2b2b">5 V</text>
<text x="592.00" y="855.80" font-size="10" fill="#2b2b2b">2 V</text>
<text x="572.2" y="874.4" font-size="10" fill="#86a0cc"><tspan font-style="italic" font-family='"Liberation Serif", serif'>V</tspan><tspan font-size="6.5" dy="2" font-style="italic" font-family='"Liberation Serif", serif'>cc</tspan><tspan dy="-2"> = 1 V</tspan></text>
<circle cx="477.94" cy="882.10" r="1.25" fill="#8b3038" opacity="0.9"/>
<circle cx="480.45" cy="882.10" r="1.25" fill="#8b3038" opacity="0.9"/>
<circle cx="482.97" cy="882.10" r="1.25" fill="#8b3038" opacity="0.9"/>
<circle cx="485.49" cy="882.10" r="1.25" fill="#8b3038" opacity="0.9"/>
<circle cx="489.26" cy="882.10" r="1.25" fill="#8b3038" opacity="0.9"/>
<circle cx="493.04" cy="882.10" r="1.25" fill="#8b3038" opacity="0.9"/>
<circle cx="498.07" cy="882.10" r="1.25" fill="#8b3038" opacity="0.9"/>
<circle cx="505.63" cy="882.10" r="1.25" fill="#8b3038" opacity="0.9"/>
<circle cx="513.18" cy="881.59" r="1.25" fill="#8b3038" opacity="0.9"/>
<circle cx="523.25" cy="880.82" r="1.25" fill="#8b3038" opacity="0.9"/>
<circle cx="537.10" cy="873.12" r="1.05" fill="#8b3038" opacity="0.9"/>
<circle cx="537.10" cy="876.97" r="1.05" fill="#8b3038" opacity="0.9"/>
<circle cx="553.46" cy="866.20" r="1.05" fill="#8b3038" opacity="0.9"/>
<circle cx="553.46" cy="872.35" r="1.05" fill="#8b3038" opacity="0.9"/>
<circle cx="553.46" cy="876.97" r="1.05" fill="#8b3038" opacity="0.9"/>
<circle cx="573.60" cy="853.37" r="1.05" fill="#8b3038" opacity="0.9"/>
<circle cx="573.60" cy="861.58" r="1.05" fill="#8b3038" opacity="0.9"/>
<circle cx="600.03" cy="828.24" r="1.05" fill="#8b3038" opacity="0.9"/>
<circle cx="600.03" cy="846.19" r="1.05" fill="#8b3038" opacity="0.9"/>
<circle cx="600.03" cy="860.30" r="1.05" fill="#8b3038" opacity="0.9"/>
<circle cx="632.76" cy="802.07" r="1.05" fill="#8b3038" opacity="0.9"/>
<circle cx="632.76" cy="826.95" r="1.05" fill="#8b3038" opacity="0.9"/>
<circle cx="674.30" cy="812.85" r="1.05" fill="#8b3038" opacity="0.9"/>
<circle cx="674.30" cy="832.08" r="1.05" fill="#8b3038" opacity="0.9"/>
<text x="567.20" y="905.20" font-size="8.3" fill="#3a3a3a" text-anchor="middle">Input (mW)</text>
<text x="457.20" y="839.40" font-size="8.3" fill="#3a3a3a" text-anchor="middle" transform="rotate(-90 457.20 839.40)">Output (mW)</text>
<text x="1.20" y="626.00" font-size="22" fill="#111">e</text>
<line x1="51.90" y1="659.00" x2="51.90" y2="704.60" stroke="#8a8a8a" stroke-width="0.6"/>
<line x1="51.90" y1="704.60" x2="122.60" y2="737.90" stroke="#8a8a8a" stroke-width="0.6"/>
<line x1="122.60" y1="737.90" x2="196.20" y2="704.60" stroke="#8a8a8a" stroke-width="0.6"/>
<line x1="50.00" y1="663.30" x2="51.90" y2="663.30" stroke="#8a8a8a" stroke-width="0.6"/>
<text x="47.20" y="665.90" font-size="10" fill="#3c3c3c" text-anchor="end">10</text>
<line x1="50.00" y1="677.30" x2="51.90" y2="677.30" stroke="#8a8a8a" stroke-width="0.6"/>
<text x="47.20" y="679.90" font-size="10" fill="#3c3c3c" text-anchor="end">0</text>
<line x1="50.00" y1="691.60" x2="51.90" y2="691.60" stroke="#8a8a8a" stroke-width="0.6"/>
<text x="47.20" y="694.20" font-size="10" fill="#3c3c3c" text-anchor="end">-10</text>
<line x1="50.00" y1="703.90" x2="51.90" y2="703.90" stroke="#8a8a8a" stroke-width="0.6"/>
<text x="47.20" y="706.50" font-size="10" fill="#3c3c3c" text-anchor="end">-20</text>
<text x="44.00" y="716.20" font-size="10" fill="#3c3c3c" text-anchor="middle">0</text>
<text x="68.00" y="727.30" font-size="10" fill="#3c3c3c" text-anchor="middle">1</text>
<text x="91.80" y="738.40" font-size="10" fill="#3c3c3c" text-anchor="middle">2</text>
<text x="117.40" y="749.60" font-size="10" fill="#3c3c3c" text-anchor="middle">3</text>
<text x="131.40" y="749.40" font-size="10" fill="#3c3c3c" text-anchor="middle">0</text>
<text x="145.40" y="743.60" font-size="10" fill="#3c3c3c" text-anchor="middle">1</text>
<text x="159.40" y="736.80" font-size="10" fill="#3c3c3c" text-anchor="middle">2</text>
<text x="174.10" y="730.80" font-size="10" fill="#3c3c3c" text-anchor="middle">3</text>
<text x="188.20" y="723.80" font-size="10" fill="#3c3c3c" text-anchor="middle">4</text>
<text x="203.20" y="716.80" font-size="10" fill="#3c3c3c" text-anchor="middle">5</text>
<line x1="51.90" y1="704.60" x2="50.30" y2="706.00" stroke="#8a8a8a" stroke-width="0.6"/>
<line x1="75.47" y1="715.70" x2="73.87" y2="717.10" stroke="#8a8a8a" stroke-width="0.6"/>
<line x1="99.03" y1="726.80" x2="97.43" y2="728.20" stroke="#8a8a8a" stroke-width="0.6"/>
<line x1="122.60" y1="737.90" x2="121.00" y2="739.30" stroke="#8a8a8a" stroke-width="0.6"/>
<line x1="122.60" y1="737.90" x2="124.20" y2="739.30" stroke="#8a8a8a" stroke-width="0.6"/>
<line x1="137.32" y1="731.24" x2="138.92" y2="732.64" stroke="#8a8a8a" stroke-width="0.6"/>
<line x1="152.04" y1="724.58" x2="153.64" y2="725.98" stroke="#8a8a8a" stroke-width="0.6"/>
<line x1="166.76" y1="717.92" x2="168.36" y2="719.32" stroke="#8a8a8a" stroke-width="0.6"/>
<line x1="181.48" y1="711.26" x2="183.08" y2="712.66" stroke="#8a8a8a" stroke-width="0.6"/>
<line x1="196.20" y1="704.60" x2="197.80" y2="706.00" stroke="#8a8a8a" stroke-width="0.6"/>
<text x="62.80" y="754.00" font-size="10.2" fill="#3a3a3a" text-anchor="middle">VCTRL(V)</text>
<text x="178.80" y="754.00" font-size="10.2" fill="#3a3a3a" text-anchor="middle">VCC(V)</text>
<text x="27.80" y="681.40" font-size="10.3" fill="#3a3a3a" text-anchor="middle" transform="rotate(-90 27.80 681.40)">S21(dB)</text>
<g clip-path="url(#esil)"><g filter="url(#eblur)">
<polygon points="47.00,692.00 123.30,649.00 146.00,668.00 124.00,682.00 104.00,697.00 100.00,726.00 86.00,716.00 70.00,702.00" fill="url(#epink)"/>
<polygon points="138.00,664.50 154.80,656.00 171.00,651.50 186.00,652.00 206.00,660.00 206.00,668.00 142.00,698.00 138.00,706.00 128.00,741.00 95.00,722.00 92.50,703.00 101.50,695.00 122.60,678.60" fill="url(#ecream)"/>
<polygon points="120.00,673.50 140.80,663.00 146.00,668.50 122.00,686.00 103.00,700.00 93.00,708.00 91.00,703.00 101.00,694.00" fill="url(#etrans)" opacity="0.92"/>
<polygon points="88.00,699.00 140.00,696.00 140.00,712.00 128.00,742.00 86.00,720.00" fill="url(#ewall)"/>
<ellipse cx="99" cy="722" rx="17" ry="9" fill="url(#edark)"/>
</g></g>
<rect x="213.70" y="624.70" width="9.50" height="113.00" fill="url(#cbar)" stroke="#555" stroke-width="0.5"/>
<text x="226.40" y="639.00" font-size="9.8" fill="#3c3c3c">10</text>
<text x="226.40" y="656.50" font-size="9.8" fill="#3c3c3c">5</text>
<text x="226.40" y="674.00" font-size="9.8" fill="#3c3c3c">0</text>
<text x="226.40" y="691.20" font-size="9.8" fill="#3c3c3c">-5</text>
<text x="226.40" y="708.70" font-size="9.8" fill="#3c3c3c">-10</text>
<text x="226.40" y="726.20" font-size="9.8" fill="#3c3c3c">-15</text>
</svg>
</body></html>
